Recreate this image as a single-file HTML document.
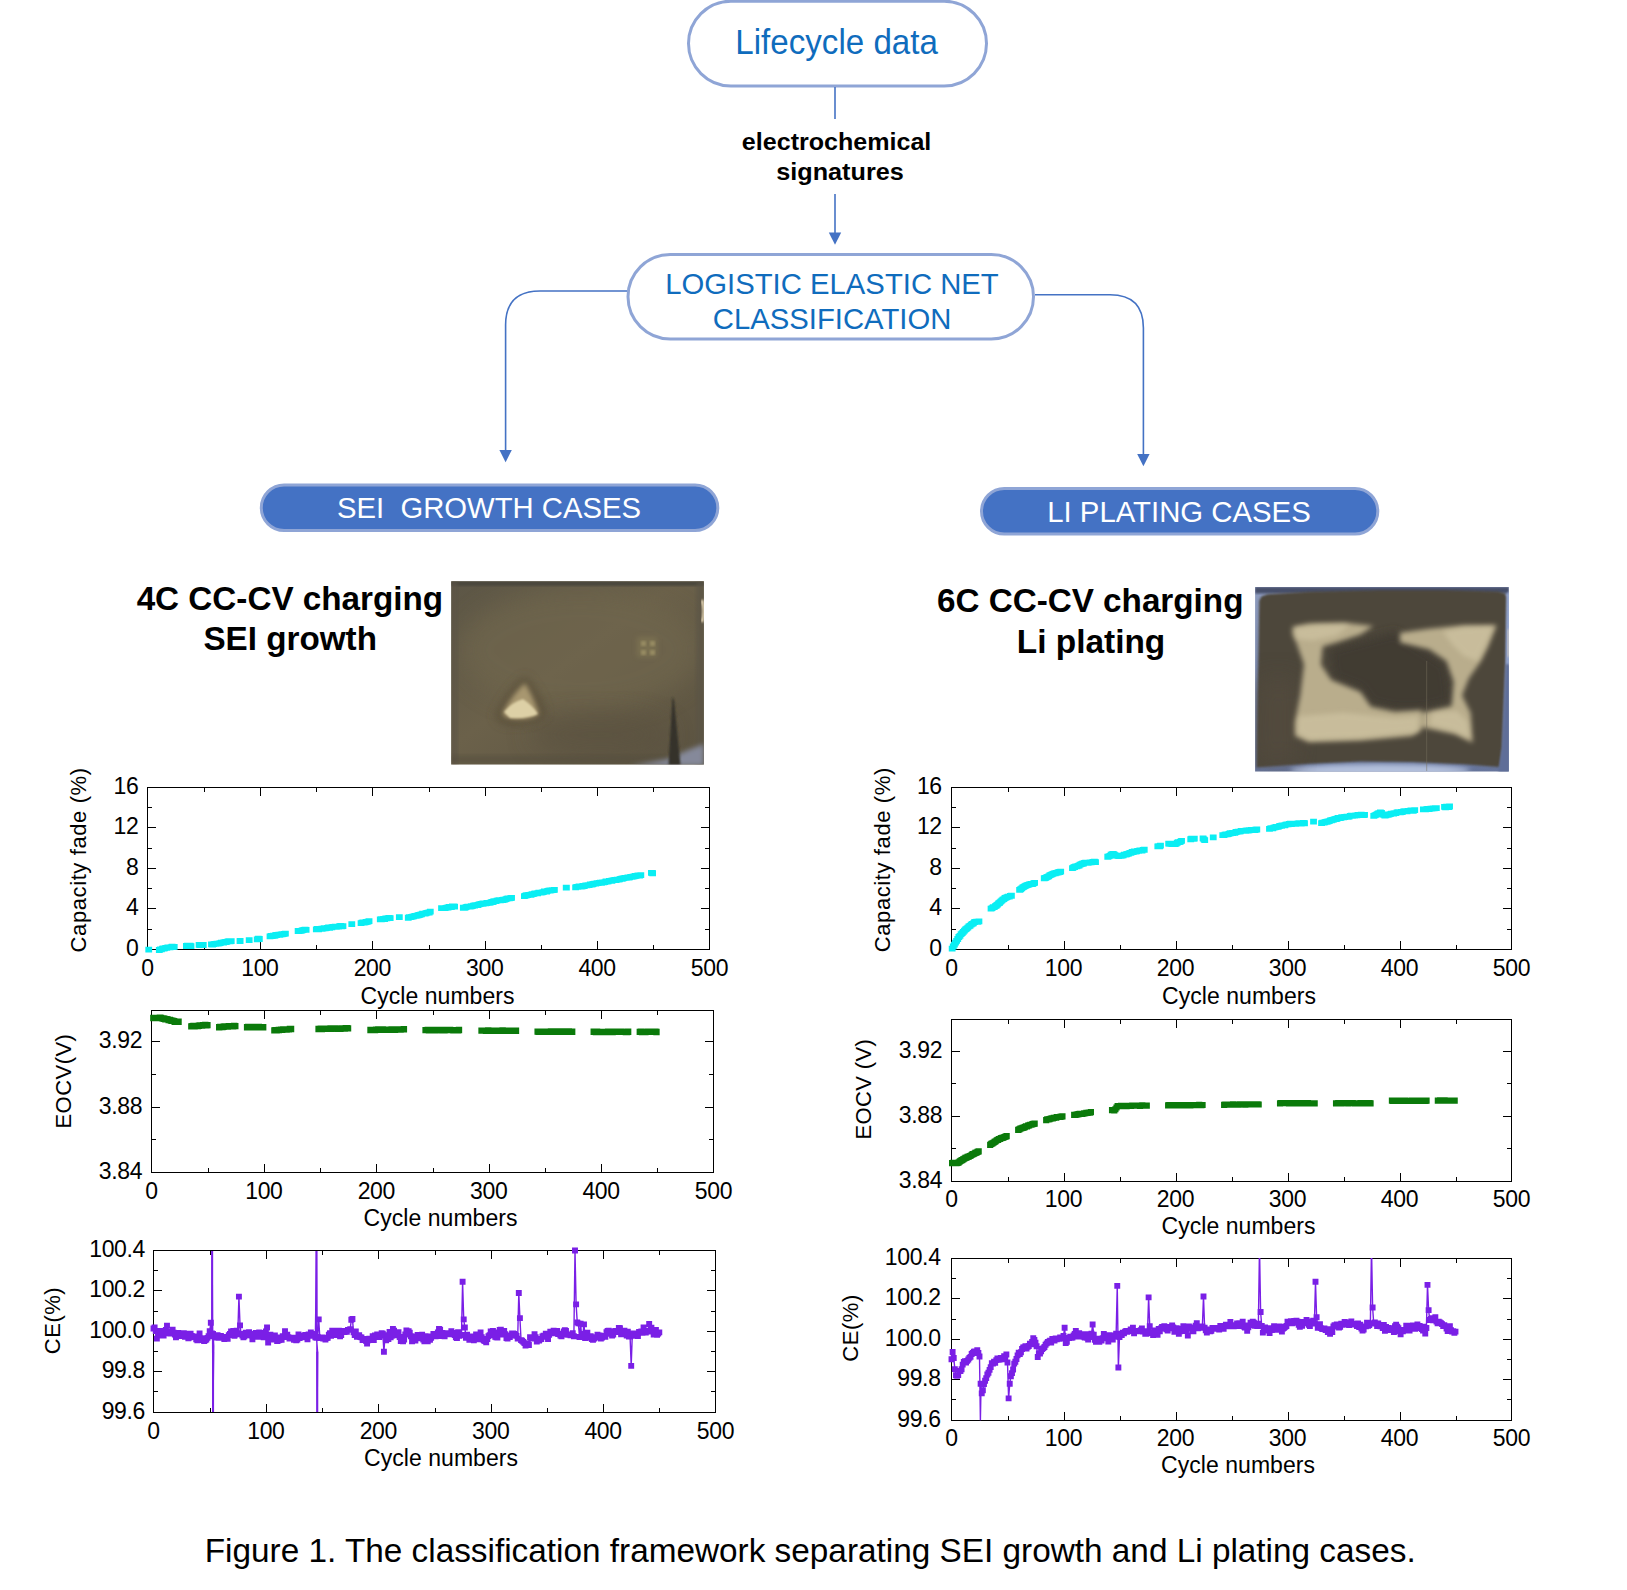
<!DOCTYPE html>
<html lang="en"><head><meta charset="utf-8"><title>Figure 1. Classification framework</title>
<style>html,body{margin:0;padding:0;background:#fff}svg{display:block}text{font-family:'Liberation Sans', sans-serif}</style>
</head><body>
<svg width="1627" height="1590" viewBox="0 0 1627 1590">
<rect width="1627" height="1590" fill="#fff"/>
<g id="flow" fill="none" stroke-linecap="butt">
<rect x="688.5" y="1.2" width="298" height="84.8" rx="42.4" ry="42.4" fill="#fff" stroke="#8fa5d6" stroke-width="3"/>
<rect x="628" y="254.5" width="405.5" height="84.5" rx="42.2" ry="42.2" fill="#fff" stroke="#8fa5d6" stroke-width="3"/>
<g stroke="#4472c4" stroke-width="1.6">
<path d="M835 87V119"/>
<path d="M835 194V234"/>
<path d="M627 291H540Q505.6 291 505.6 325V452"/>
<path d="M1035 294.7H1110Q1143.4 294.7 1143.4 328V456"/>
</g>
<g fill="#4472c4" stroke="none">
<path d="M828.8 232.5h12.4l-6.2 12.3z"/>
<path d="M499.4 450h12.4l-6.2 12.3z"/>
<path d="M1137.2 454h12.4l-6.2 12.3z"/>
</g>
<rect x="261.3" y="485" width="456.5" height="45.6" rx="22.8" ry="22.8" fill="#4472c4" stroke="#8fa5d6" stroke-width="3"/>
<rect x="981.5" y="488.5" width="396.3" height="45.6" rx="22.8" ry="22.8" fill="#4472c4" stroke="#8fa5d6" stroke-width="3"/>
</g>
<text x="836.6" y="53.7" font-size="34.6" text-anchor="middle" fill="#0f6cbd" textLength="202.5" lengthAdjust="spacingAndGlyphs">Lifecycle data</text>
<text x="836.6" y="150.1" font-size="23" text-anchor="middle" font-weight="bold" textLength="189.5" lengthAdjust="spacingAndGlyphs">electrochemical</text>
<text x="840" y="179.5" font-size="23" text-anchor="middle" font-weight="bold" textLength="127.5" lengthAdjust="spacingAndGlyphs">signatures</text>
<text x="832" y="294.3" font-size="30.2" text-anchor="middle" fill="#0f6cbd" textLength="333.5" lengthAdjust="spacingAndGlyphs">LOGISTIC ELASTIC NET</text>
<text x="832.1" y="329.3" font-size="30.2" text-anchor="middle" fill="#0f6cbd" textLength="238.5" lengthAdjust="spacingAndGlyphs">CLASSIFICATION</text>
<text x="489" y="517.8" font-size="30.2" text-anchor="middle" fill="#fff" textLength="304" lengthAdjust="spacingAndGlyphs" xml:space="preserve">SEI  GROWTH CASES</text>
<text x="1179" y="521.5" font-size="30.2" text-anchor="middle" fill="#fff" textLength="263.5" lengthAdjust="spacingAndGlyphs">LI PLATING CASES</text>
<text x="289.9" y="609.8" font-size="34.1" text-anchor="middle" font-weight="bold" textLength="306.5" lengthAdjust="spacingAndGlyphs">4C CC-CV charging</text>
<text x="290.2" y="649.9" font-size="34.1" text-anchor="middle" font-weight="bold" textLength="173.5" lengthAdjust="spacingAndGlyphs">SEI growth</text>
<text x="1090.2" y="612" font-size="34.1" text-anchor="middle" font-weight="bold" textLength="306.5" lengthAdjust="spacingAndGlyphs">6C CC-CV charging</text>
<text x="1091" y="653" font-size="34.1" text-anchor="middle" font-weight="bold" textLength="148.5" lengthAdjust="spacingAndGlyphs">Li plating</text>
<text x="810.2" y="1562" font-size="33.5" text-anchor="middle" textLength="1211" lengthAdjust="spacingAndGlyphs">Figure 1. The classification framework separating SEI growth and Li plating cases.</text>
<defs>
<filter id="b1" x="-20%" y="-20%" width="140%" height="140%"><feGaussianBlur stdDeviation="1.2"/></filter>
<filter id="b2" x="-30%" y="-30%" width="160%" height="160%"><feGaussianBlur stdDeviation="2.5"/></filter>
<filter id="b3" x="-30%" y="-30%" width="160%" height="160%"><feGaussianBlur stdDeviation="5"/></filter>
<filter id="b4" x="-50%" y="-50%" width="200%" height="200%"><feGaussianBlur stdDeviation="12"/></filter>
<linearGradient id="pL" x1="0" y1="0" x2="1" y2="1">
<stop offset="0" stop-color="#5c5646"/><stop offset="0.45" stop-color="#6b614a"/><stop offset="1" stop-color="#5b5341"/></linearGradient>
<linearGradient id="pR" x1="0" y1="0" x2="0" y2="1">
<stop offset="0" stop-color="#8d9bbd"/><stop offset="1" stop-color="#66749a"/></linearGradient>
<clipPath id="cL"><rect x="451.2" y="581.2" width="252.7" height="183.3"/></clipPath>
<clipPath id="cR"><rect x="1255.1" y="587" width="253.7" height="184.6"/></clipPath>
</defs>
<g clip-path="url(#cL)">
<rect x="451" y="581" width="253" height="184" fill="url(#pL)"/>
<ellipse cx="580" cy="650" rx="120" ry="60" fill="#70664d" opacity="0.7" filter="url(#b4)"/>
<ellipse cx="600" cy="735" rx="70" ry="22" fill="#5a5140" opacity="0.6" filter="url(#b4)"/>
<rect x="451" y="581" width="253" height="5" fill="#4c473d" filter="url(#b1)"/>
<rect x="451" y="581" width="6" height="184" fill="#5b5546" opacity="0.8" filter="url(#b2)"/>
<rect x="697" y="581" width="8" height="184" fill="#5a5446" opacity="0.8" filter="url(#b2)"/>
<path d="M451 756H704V763H451z" fill="#554d3d" opacity="0.6" filter="url(#b2)"/>
<path d="M630 766L668 759L688 750L704 744V766z" fill="#85899a" filter="url(#b2)"/>
<path d="M494 716Q512 682 526 676Q544 696 546 716Q526 728 502 724z" fill="#584e38" opacity="0.75" filter="url(#b3)"/>
<path d="M503 712Q514 692 525 683Q534 698 539 714Q532 719 520 719Q507 719 503 715z" fill="#a8976f" filter="url(#b2)"/>
<path d="M504 712Q512 702 523 699Q533 706 538 714Q528 719 510 718z" fill="#ddd0a6" filter="url(#b1)"/>
<rect x="637" y="637" width="20" height="20" fill="#7f7453" opacity="0.7" filter="url(#b2)"/>
<rect x="641" y="641" width="5" height="5" fill="#968a62" filter="url(#b1)"/><rect x="650" y="641" width="5" height="5" fill="#968a62" filter="url(#b1)"/>
<rect x="641" y="650" width="5" height="5" fill="#968a62" filter="url(#b1)"/><rect x="650" y="650" width="5" height="5" fill="#968a62" filter="url(#b1)"/>
<path d="M672.5 697L674 700L680.5 765H668.5z" fill="#34322a" filter="url(#b1)"/>
<path d="M702 600Q706 612 702 622" stroke="#e8d9b8" stroke-width="3" fill="none" filter="url(#b1)"/>
</g>
<g clip-path="url(#cR)">
<rect x="1255" y="587" width="254" height="185" fill="url(#pR)"/>
<rect x="1255" y="587" width="254" height="6.5" fill="#474f6b" filter="url(#b1)"/>
<ellipse cx="1380" cy="770" rx="90" ry="6" fill="#b3c0dc" filter="url(#b2)"/>
<path d="M1259.28 600.82L1261.51 596.51L1267.54 594.28L1308.85 591.87L1377.69 590.15L1446.54 590.15L1498.18 591.52L1505.06 593.59L1506.44 597.38L1505.4 661.06L1501.96 747.12L1499.55 767.08L1463.75 764.33L1412.12 761.92L1360.48 761.57L1308.85 763.64L1256.52 767.43L1257.21 712.69L1258.59 643.85z" fill="#4d463b" filter="url(#b1)"/>
<path d="M1329.5 649.01L1394.91 631.8L1425.89 650.73L1446.54 664.5L1451.7 702.37L1422.44 709.25L1394.91 709.25L1370.81 704.09L1360.48 688.6L1332.94 678.27z" fill="#413b32" opacity="0.9" filter="url(#b3)"/>
<path d="M1258.93 678.27L1296.8 678.27L1296.8 762.61L1257.21 764.33z" fill="#564d3f" opacity="0.6" filter="url(#b4)"/>
<path d="M1507.13 592.21L1510.22 592.21L1510.22 664.5L1506.09 664.5z" fill="#93a4cf" filter="url(#b1)"/>
<path d="M1506.09 664.5L1510.22 664.5L1510.22 772.93L1498.18 772.93L1502.31 747.12z" fill="#5f6e98" filter="url(#b1)"/>
<path d="M1507.81 630.08L1509.54 628.36L1509.54 655.9L1507.81 657.62z" fill="#e6d6bd" filter="url(#b1)"/>
<g fill="#b9ad8c" filter="url(#b2)">
<path d="M1292.5 626.64L1308.85 623.54L1343.27 622.5L1373.39 625.95L1360.48 634.38L1336.39 642.47L1322.62 646.43L1320.9 664.5L1331.22 679.99L1360.48 692.04L1370.81 706.67L1394.91 711.83L1421.58 710.11L1422.44 726.46L1420.72 730.77L1412.12 735.93L1360.48 740.58L1308.85 742.3L1295.08 735.93L1294.73 723.02L1300.24 695.48L1304.03 664.5L1296.8 643.85L1292.5 634.38z"/>
<path d="M1400.07 632.66L1429.33 628.7L1463.75 625.26L1496.8 624.91L1487.85 647.29L1480.96 661.06L1468.92 678.27L1462.03 695.48L1470.64 712.69L1472.7 742.81L1455.15 734.21L1422.44 727.32L1422.44 712.69L1451.7 706.15L1453.77 681.71L1446.54 661.06L1429.33 649.35L1400.07 642.47z"/>
</g>
<g fill="#d5caa9" filter="url(#b2)" opacity="0.55">
<path d="M1298.52 716.14L1343.27 712.69L1394.91 717.86L1419 716.14L1417.28 731.63L1360.48 737.65L1308.85 739.37L1297.66 733.35z"/>
<path d="M1443.1 631.8L1463.75 627.5L1493.01 626.64L1484.41 647.29L1477.52 661.06L1463.75 655.9L1451.7 643.85z"/>
<path d="M1295.08 628.36L1317.45 625.26L1350.15 624.91L1336.39 635.24L1312.29 640.4L1296.8 638.68z"/>
<path d="M1432.77 712.69L1456.87 710.97L1467.19 721.3L1469.78 738.51L1453.43 730.77L1429.33 724.74z"/>
</g>
<path d="M1426.7 661V771" stroke="#7a725f" stroke-width="1" opacity="0.5"/>
</g>
<rect x="147.5" y="787.5" width="562" height="162" fill="none" stroke="#000" stroke-width="1" shape-rendering="crispEdges"/>
<path d="M204.5 949.5v-4.5M204.5 787.5v4.5M260.5 949.5v-8.5M260.5 787.5v8.5M316.5 949.5v-4.5M316.5 787.5v4.5M372.5 949.5v-8.5M372.5 787.5v8.5M429.5 949.5v-4.5M429.5 787.5v4.5M485.5 949.5v-8.5M485.5 787.5v8.5M541.5 949.5v-4.5M541.5 787.5v4.5M597.5 949.5v-8.5M597.5 787.5v8.5M653.5 949.5v-4.5M653.5 787.5v4.5M147.5 908.5h8.5M709.5 908.5h-8.5M147.5 868.5h8.5M709.5 868.5h-8.5M147.5 827.5h8.5M709.5 827.5h-8.5M147.5 929.5h4.5M709.5 929.5h-4.5M147.5 888.5h4.5M709.5 888.5h-4.5M147.5 848.5h4.5M709.5 848.5h-4.5M147.5 807.5h4.5M709.5 807.5h-4.5" stroke="#000" stroke-width="1" fill="none" shape-rendering="crispEdges"/>
<text x="138.5" y="955.7" font-size="23" text-anchor="end" letter-spacing="-0.35">0</text>
<text x="138.5" y="915.2" font-size="23" text-anchor="end" letter-spacing="-0.35">4</text>
<text x="138.5" y="874.7" font-size="23" text-anchor="end" letter-spacing="-0.35">8</text>
<text x="138.5" y="834.2" font-size="23" text-anchor="end" letter-spacing="-0.35">12</text>
<text x="138.5" y="793.7" font-size="23" text-anchor="end" letter-spacing="-0.35">16</text>
<text x="147.5" y="975.8" font-size="23" text-anchor="middle" letter-spacing="-0.35">0</text>
<text x="259.9" y="975.8" font-size="23" text-anchor="middle" letter-spacing="-0.35">100</text>
<text x="372.3" y="975.8" font-size="23" text-anchor="middle" letter-spacing="-0.35">200</text>
<text x="484.7" y="975.8" font-size="23" text-anchor="middle" letter-spacing="-0.35">300</text>
<text x="597.1" y="975.8" font-size="23" text-anchor="middle" letter-spacing="-0.35">400</text>
<text x="709.5" y="975.8" font-size="23" text-anchor="middle" letter-spacing="-0.35">500</text>
<text x="437.5" y="1003.6" font-size="23" text-anchor="middle" textLength="154" lengthAdjust="spacing">Cycle numbers</text>
<text transform="translate(86.2 860.2) rotate(-90)" font-size="22" text-anchor="middle" textLength="184.5" lengthAdjust="spacing">Capacity fade (%)</text>
<path id="d1" d="M145.34 946.71h6.8v5.8h-6.8zM155.9 947.12h6.8v5.8h-6.8zM156.97 946.45h6.8v5.8h-6.8zM158.04 946.45h6.8v5.8h-6.8zM159.11 945.81h6.8v5.8h-6.8zM160.17 945.58h6.8v5.8h-6.8zM161.24 945.48h6.8v5.8h-6.8zM162.31 944.91h6.8v5.8h-6.8zM163.38 944.91h6.8v5.8h-6.8zM164.44 944.4h6.8v5.8h-6.8zM165.51 944.55h6.8v5.8h-6.8zM166.58 944.45h6.8v5.8h-6.8zM167.65 944.17h6.8v5.8h-6.8zM168.72 943.84h6.8v5.8h-6.8zM169.78 944.19h6.8v5.8h-6.8zM170.85 944.05h6.8v5.8h-6.8zM182.99 943.11h6.8v5.8h-6.8zM183.91 942.86h6.8v5.8h-6.8zM184.83 943.05h6.8v5.8h-6.8zM185.76 943.12h6.8v5.8h-6.8zM186.68 942.72h6.8v5.8h-6.8zM187.6 943.25h6.8v5.8h-6.8zM195.69 941.94h6.8v5.8h-6.8zM196.73 942.23h6.8v5.8h-6.8zM197.77 942.27h6.8v5.8h-6.8zM198.81 942.24h6.8v5.8h-6.8zM199.85 942.08h6.8v5.8h-6.8zM208.06 941.45h6.8v5.8h-6.8zM209.15 941.65h6.8v5.8h-6.8zM210.25 941.21h6.8v5.8h-6.8zM211.35 940.98h6.8v5.8h-6.8zM212.45 940.94h6.8v5.8h-6.8zM213.55 940.64h6.8v5.8h-6.8zM214.65 940.74h6.8v5.8h-6.8zM215.75 940.54h6.8v5.8h-6.8zM216.85 940.25h6.8v5.8h-6.8zM217.95 939.77h6.8v5.8h-6.8zM219.05 939.72h6.8v5.8h-6.8zM220.14 939.59h6.8v5.8h-6.8zM221.24 939.23h6.8v5.8h-6.8zM222.34 939.11h6.8v5.8h-6.8zM223.44 939.01h6.8v5.8h-6.8zM224.54 938.51h6.8v5.8h-6.8zM225.64 938.37h6.8v5.8h-6.8zM226.74 938.45h6.8v5.8h-6.8zM227.84 938.15h6.8v5.8h-6.8zM236.61 938.15h6.8v5.8h-6.8zM236.72 937.93h6.8v5.8h-6.8zM245.77 937.28h6.8v5.8h-6.8zM253.8 936.46h6.8v5.8h-6.8zM254.87 935.83h6.8v5.8h-6.8zM255.94 936.1h6.8v5.8h-6.8zM266.62 933.39h6.8v5.8h-6.8zM267.72 933h6.8v5.8h-6.8zM268.82 933.19h6.8v5.8h-6.8zM269.92 932.81h6.8v5.8h-6.8zM271.02 932.91h6.8v5.8h-6.8zM272.12 932.35h6.8v5.8h-6.8zM273.22 932.11h6.8v5.8h-6.8zM274.32 932.05h6.8v5.8h-6.8zM275.42 931.69h6.8v5.8h-6.8zM276.52 931.86h6.8v5.8h-6.8zM277.62 931.45h6.8v5.8h-6.8zM278.72 931.33h6.8v5.8h-6.8zM279.81 931.16h6.8v5.8h-6.8zM280.91 931.06h6.8v5.8h-6.8zM282.01 930.65h6.8v5.8h-6.8zM294.72 928.1h6.8v5.8h-6.8zM295.71 928.2h6.8v5.8h-6.8zM296.71 927.89h6.8v5.8h-6.8zM297.71 928.06h6.8v5.8h-6.8zM298.71 927.48h6.8v5.8h-6.8zM299.7 927.32h6.8v5.8h-6.8zM300.7 926.92h6.8v5.8h-6.8zM301.7 926.83h6.8v5.8h-6.8zM302.7 926.98h6.8v5.8h-6.8zM312.92 926.39h6.8v5.8h-6.8zM314.03 926.08h6.8v5.8h-6.8zM315.14 926.34h6.8v5.8h-6.8zM316.25 925.93h6.8v5.8h-6.8zM317.36 925.97h6.8v5.8h-6.8zM318.47 925.87h6.8v5.8h-6.8zM319.58 925.77h6.8v5.8h-6.8zM320.69 925.2h6.8v5.8h-6.8zM321.8 925.45h6.8v5.8h-6.8zM322.91 925.24h6.8v5.8h-6.8zM324.02 925.01h6.8v5.8h-6.8zM325.13 924.58h6.8v5.8h-6.8zM326.24 924.93h6.8v5.8h-6.8zM327.35 924.57h6.8v5.8h-6.8zM328.46 924.37h6.8v5.8h-6.8zM329.57 924.03h6.8v5.8h-6.8zM330.68 923.93h6.8v5.8h-6.8zM331.79 923.76h6.8v5.8h-6.8zM332.9 923.98h6.8v5.8h-6.8zM334.01 923.76h6.8v5.8h-6.8zM335.12 923.66h6.8v5.8h-6.8zM336.23 923.2h6.8v5.8h-6.8zM337.34 923.02h6.8v5.8h-6.8zM338.45 923.37h6.8v5.8h-6.8zM339.56 923.22h6.8v5.8h-6.8zM348.39 921.21h6.8v5.8h-6.8zM357.66 920.13h6.8v5.8h-6.8zM358.66 919.8h6.8v5.8h-6.8zM359.66 919.56h6.8v5.8h-6.8zM360.65 919.58h6.8v5.8h-6.8zM361.65 919.55h6.8v5.8h-6.8zM362.65 919.12h6.8v5.8h-6.8zM363.65 918.97h6.8v5.8h-6.8zM364.64 918.67h6.8v5.8h-6.8zM365.64 918.26h6.8v5.8h-6.8zM376.88 916.4h6.8v5.8h-6.8zM377.98 916.35h6.8v5.8h-6.8zM379.08 916.13h6.8v5.8h-6.8zM380.18 915.94h6.8v5.8h-6.8zM381.28 916.17h6.8v5.8h-6.8zM382.38 915.5h6.8v5.8h-6.8zM383.47 915.42h6.8v5.8h-6.8zM384.57 915.21h6.8v5.8h-6.8zM385.67 915.1h6.8v5.8h-6.8zM386.77 915.19h6.8v5.8h-6.8zM395.93 914.16h6.8v5.8h-6.8zM404.87 914.85h6.8v5.8h-6.8zM405.97 914.25h6.8v5.8h-6.8zM407.07 914.32h6.8v5.8h-6.8zM408.17 914.04h6.8v5.8h-6.8zM409.27 913.67h6.8v5.8h-6.8zM410.38 913.43h6.8v5.8h-6.8zM411.48 913.04h6.8v5.8h-6.8zM412.58 912.94h6.8v5.8h-6.8zM413.68 912.69h6.8v5.8h-6.8zM414.78 912.33h6.8v5.8h-6.8zM415.88 912.08h6.8v5.8h-6.8zM416.98 911.64h6.8v5.8h-6.8zM418.09 911.57h6.8v5.8h-6.8zM419.19 910.78h6.8v5.8h-6.8zM420.29 910.66h6.8v5.8h-6.8zM421.39 910.67h6.8v5.8h-6.8zM422.49 910.33h6.8v5.8h-6.8zM423.59 909.99h6.8v5.8h-6.8zM424.7 909.71h6.8v5.8h-6.8zM425.8 909.58h6.8v5.8h-6.8zM426.9 908.82h6.8v5.8h-6.8zM438.14 905.23h6.8v5.8h-6.8zM439.22 905.31h6.8v5.8h-6.8zM440.31 905.13h6.8v5.8h-6.8zM441.4 905.21h6.8v5.8h-6.8zM442.48 905.03h6.8v5.8h-6.8zM443.57 904.71h6.8v5.8h-6.8zM444.66 904.59h6.8v5.8h-6.8zM445.74 904.08h6.8v5.8h-6.8zM446.83 904.31h6.8v5.8h-6.8zM447.92 904.23h6.8v5.8h-6.8zM449 903.5h6.8v5.8h-6.8zM450.09 903.58h6.8v5.8h-6.8zM451.18 903.72h6.8v5.8h-6.8zM459.94 904.86h6.8v5.8h-6.8zM461.07 904.94h6.8v5.8h-6.8zM462.19 904.41h6.8v5.8h-6.8zM463.31 903.91h6.8v5.8h-6.8zM464.43 903.75h6.8v5.8h-6.8zM465.55 903.63h6.8v5.8h-6.8zM466.67 903.66h6.8v5.8h-6.8zM467.79 903.37h6.8v5.8h-6.8zM468.92 903.26h6.8v5.8h-6.8zM470.04 902.67h6.8v5.8h-6.8zM471.16 902.59h6.8v5.8h-6.8zM472.28 902.21h6.8v5.8h-6.8zM473.4 902.25h6.8v5.8h-6.8zM474.52 902.09h6.8v5.8h-6.8zM475.64 901.51h6.8v5.8h-6.8zM476.76 901.17h6.8v5.8h-6.8zM477.89 901.02h6.8v5.8h-6.8zM479.01 900.83h6.8v5.8h-6.8zM480.13 900.59h6.8v5.8h-6.8zM481.25 900.41h6.8v5.8h-6.8zM482.37 900.49h6.8v5.8h-6.8zM483.49 900.09h6.8v5.8h-6.8zM484.61 899.96h6.8v5.8h-6.8zM485.74 899.93h6.8v5.8h-6.8zM486.86 899.7h6.8v5.8h-6.8zM487.98 899.32h6.8v5.8h-6.8zM489.1 899.11h6.8v5.8h-6.8zM490.22 898.62h6.8v5.8h-6.8zM491.34 898.23h6.8v5.8h-6.8zM492.46 898.31h6.8v5.8h-6.8zM493.59 897.78h6.8v5.8h-6.8zM494.71 897.52h6.8v5.8h-6.8zM495.83 897.32h6.8v5.8h-6.8zM496.95 897.45h6.8v5.8h-6.8zM498.07 897.31h6.8v5.8h-6.8zM499.19 897.08h6.8v5.8h-6.8zM500.31 896.87h6.8v5.8h-6.8zM501.44 896.63h6.8v5.8h-6.8zM502.56 896.15h6.8v5.8h-6.8zM503.68 895.75h6.8v5.8h-6.8zM504.8 895.56h6.8v5.8h-6.8zM505.92 895.55h6.8v5.8h-6.8zM507.04 895.22h6.8v5.8h-6.8zM508.16 894.9h6.8v5.8h-6.8zM520.98 893.32h6.8v5.8h-6.8zM522.09 892.74h6.8v5.8h-6.8zM523.2 892.35h6.8v5.8h-6.8zM524.31 892.2h6.8v5.8h-6.8zM525.42 891.98h6.8v5.8h-6.8zM526.53 891.91h6.8v5.8h-6.8zM527.65 891.86h6.8v5.8h-6.8zM528.76 891.26h6.8v5.8h-6.8zM529.87 891.3h6.8v5.8h-6.8zM530.98 890.78h6.8v5.8h-6.8zM532.09 890.45h6.8v5.8h-6.8zM533.2 890.56h6.8v5.8h-6.8zM534.32 890.33h6.8v5.8h-6.8zM535.43 889.76h6.8v5.8h-6.8zM536.54 889.66h6.8v5.8h-6.8zM537.65 889.77h6.8v5.8h-6.8zM538.76 889.56h6.8v5.8h-6.8zM539.87 889.31h6.8v5.8h-6.8zM540.98 888.62h6.8v5.8h-6.8zM542.1 888.44h6.8v5.8h-6.8zM543.21 888.61h6.8v5.8h-6.8zM544.32 887.96h6.8v5.8h-6.8zM545.43 887.64h6.8v5.8h-6.8zM546.54 887.6h6.8v5.8h-6.8zM547.65 887.55h6.8v5.8h-6.8zM548.76 887.2h6.8v5.8h-6.8zM549.88 887.22h6.8v5.8h-6.8zM550.99 887.06h6.8v5.8h-6.8zM562.79 884.64h6.8v5.8h-6.8zM563.01 884.8h6.8v5.8h-6.8zM572.23 884.42h6.8v5.8h-6.8zM573.36 883.98h6.8v5.8h-6.8zM574.48 884.07h6.8v5.8h-6.8zM575.6 883.6h6.8v5.8h-6.8zM576.73 883.42h6.8v5.8h-6.8zM577.85 883.58h6.8v5.8h-6.8zM578.98 883.35h6.8v5.8h-6.8zM580.1 883.11h6.8v5.8h-6.8zM581.22 882.94h6.8v5.8h-6.8zM582.35 882.52h6.8v5.8h-6.8zM583.47 882.5h6.8v5.8h-6.8zM584.6 882.2h6.8v5.8h-6.8zM585.72 882.16h6.8v5.8h-6.8zM586.84 881.48h6.8v5.8h-6.8zM587.97 881.61h6.8v5.8h-6.8zM589.09 881.34h6.8v5.8h-6.8zM590.22 881.05h6.8v5.8h-6.8zM591.34 880.65h6.8v5.8h-6.8zM592.46 880.73h6.8v5.8h-6.8zM593.59 880.22h6.8v5.8h-6.8zM594.71 880.26h6.8v5.8h-6.8zM595.84 880.03h6.8v5.8h-6.8zM596.96 879.83h6.8v5.8h-6.8zM598.08 879.93h6.8v5.8h-6.8zM599.21 879.46h6.8v5.8h-6.8zM600.33 879.41h6.8v5.8h-6.8zM601.46 879.31h6.8v5.8h-6.8zM602.58 878.62h6.8v5.8h-6.8zM603.7 878.79h6.8v5.8h-6.8zM604.83 878.39h6.8v5.8h-6.8zM605.95 878.03h6.8v5.8h-6.8zM607.08 877.93h6.8v5.8h-6.8zM608.2 877.86h6.8v5.8h-6.8zM609.32 877.53h6.8v5.8h-6.8zM610.45 877.3h6.8v5.8h-6.8zM611.57 876.95h6.8v5.8h-6.8zM612.7 877.15h6.8v5.8h-6.8zM613.82 876.67h6.8v5.8h-6.8zM614.94 876.65h6.8v5.8h-6.8zM616.07 876.42h6.8v5.8h-6.8zM617.19 875.91h6.8v5.8h-6.8zM618.32 875.86h6.8v5.8h-6.8zM619.44 875.62h6.8v5.8h-6.8zM620.56 875.29h6.8v5.8h-6.8zM621.69 874.99h6.8v5.8h-6.8zM622.81 875.06h6.8v5.8h-6.8zM623.94 874.75h6.8v5.8h-6.8zM625.06 874.6h6.8v5.8h-6.8zM626.18 874.39h6.8v5.8h-6.8zM627.31 874.07h6.8v5.8h-6.8zM628.43 874.01h6.8v5.8h-6.8zM629.56 873.75h6.8v5.8h-6.8zM630.68 873.57h6.8v5.8h-6.8zM631.8 873.08h6.8v5.8h-6.8zM632.93 873.02h6.8v5.8h-6.8zM634.05 872.7h6.8v5.8h-6.8zM635.18 872.45h6.8v5.8h-6.8zM636.3 872.66h6.8v5.8h-6.8zM637.42 872.27h6.8v5.8h-6.8zM647.99 870.04h6.8v5.8h-6.8zM648.61 870.02h6.8v5.8h-6.8zM649.23 870.37h6.8v5.8h-6.8z" fill="#0aeef3"/>
<rect x="151.5" y="1010.5" width="562" height="162" fill="none" stroke="#000" stroke-width="1" shape-rendering="crispEdges"/>
<path d="M208.5 1172.5v-4.5M208.5 1010.5v4.5M264.5 1172.5v-8.5M264.5 1010.5v8.5M320.5 1172.5v-4.5M320.5 1010.5v4.5M376.5 1172.5v-8.5M376.5 1010.5v8.5M433.5 1172.5v-4.5M433.5 1010.5v4.5M489.5 1172.5v-8.5M489.5 1010.5v8.5M545.5 1172.5v-4.5M545.5 1010.5v4.5M601.5 1172.5v-8.5M601.5 1010.5v8.5M657.5 1172.5v-4.5M657.5 1010.5v4.5M151.5 1107.5h8.5M713.5 1107.5h-8.5M151.5 1041.5h8.5M713.5 1041.5h-8.5M151.5 1139.5h4.5M713.5 1139.5h-4.5M151.5 1074.5h4.5M713.5 1074.5h-4.5" stroke="#000" stroke-width="1" fill="none" shape-rendering="crispEdges"/>
<text x="142.2" y="1178.7" font-size="23" text-anchor="end" letter-spacing="-0.35">3.84</text>
<text x="142.2" y="1113.5" font-size="23" text-anchor="end" letter-spacing="-0.35">3.88</text>
<text x="142.2" y="1048.3" font-size="23" text-anchor="end" letter-spacing="-0.35">3.92</text>
<text x="151.5" y="1199" font-size="23" text-anchor="middle" letter-spacing="-0.35">0</text>
<text x="263.9" y="1199" font-size="23" text-anchor="middle" letter-spacing="-0.35">100</text>
<text x="376.3" y="1199" font-size="23" text-anchor="middle" letter-spacing="-0.35">200</text>
<text x="488.7" y="1199" font-size="23" text-anchor="middle" letter-spacing="-0.35">300</text>
<text x="601.1" y="1199" font-size="23" text-anchor="middle" letter-spacing="-0.35">400</text>
<text x="713.5" y="1199" font-size="23" text-anchor="middle" letter-spacing="-0.35">500</text>
<text x="440.5" y="1226.2" font-size="23" text-anchor="middle" textLength="154" lengthAdjust="spacing">Cycle numbers</text>
<text transform="translate(71.1 1081.3) rotate(-90)" font-size="22" text-anchor="middle" textLength="94.5" lengthAdjust="spacing">EOCV(V)</text>
<path id="d2" d="M150.15 1014.84h6.4v6.4h-6.4zM151.25 1014.72h6.4v6.4h-6.4zM152.34 1014.86h6.4v6.4h-6.4zM153.44 1014.8h6.4v6.4h-6.4zM154.53 1014.86h6.4v6.4h-6.4zM155.63 1014.63h6.4v6.4h-6.4zM156.72 1014.58h6.4v6.4h-6.4zM157.82 1014.66h6.4v6.4h-6.4zM158.91 1015.22h6.4v6.4h-6.4zM160.01 1015.26h6.4v6.4h-6.4zM161.1 1015.54h6.4v6.4h-6.4zM162.2 1016.01h6.4v6.4h-6.4zM163.29 1015.98h6.4v6.4h-6.4zM164.39 1016.21h6.4v6.4h-6.4zM165.48 1016.76h6.4v6.4h-6.4zM166.57 1016.76h6.4v6.4h-6.4zM167.67 1017.3h6.4v6.4h-6.4zM168.76 1017.59h6.4v6.4h-6.4zM169.86 1017.71h6.4v6.4h-6.4zM170.95 1018.1h6.4v6.4h-6.4zM172.05 1018.48h6.4v6.4h-6.4zM173.14 1018.43h6.4v6.4h-6.4zM174.24 1018.44h6.4v6.4h-6.4zM175.33 1018.56h6.4v6.4h-6.4zM188.15 1023.18h6.4v6.4h-6.4zM189.22 1023.05h6.4v6.4h-6.4zM190.29 1022.82h6.4v6.4h-6.4zM191.36 1023.01h6.4v6.4h-6.4zM192.43 1022.72h6.4v6.4h-6.4zM193.5 1022.68h6.4v6.4h-6.4zM194.58 1022.77h6.4v6.4h-6.4zM195.65 1022.57h6.4v6.4h-6.4zM196.72 1022.37h6.4v6.4h-6.4zM197.79 1022.33h6.4v6.4h-6.4zM198.86 1022.43h6.4v6.4h-6.4zM199.93 1021.99h6.4v6.4h-6.4zM201 1021.99h6.4v6.4h-6.4zM202.08 1021.83h6.4v6.4h-6.4zM203.15 1022.09h6.4v6.4h-6.4zM204.22 1021.95h6.4v6.4h-6.4zM216.02 1024.01h6.4v6.4h-6.4zM217.09 1023.66h6.4v6.4h-6.4zM218.16 1023.79h6.4v6.4h-6.4zM219.24 1023.78h6.4v6.4h-6.4zM220.31 1023.6h6.4v6.4h-6.4zM221.38 1023.35h6.4v6.4h-6.4zM222.45 1023.32h6.4v6.4h-6.4zM223.52 1023.47h6.4v6.4h-6.4zM224.59 1023.45h6.4v6.4h-6.4zM225.66 1023.09h6.4v6.4h-6.4zM226.74 1023.16h6.4v6.4h-6.4zM227.81 1023.04h6.4v6.4h-6.4zM228.88 1023.22h6.4v6.4h-6.4zM229.95 1023.16h6.4v6.4h-6.4zM231.02 1022.85h6.4v6.4h-6.4zM232.09 1022.89h6.4v6.4h-6.4zM243.9 1024.1h6.4v6.4h-6.4zM244.97 1023.77h6.4v6.4h-6.4zM246.04 1023.88h6.4v6.4h-6.4zM247.11 1023.82h6.4v6.4h-6.4zM248.18 1024.1h6.4v6.4h-6.4zM249.25 1023.8h6.4v6.4h-6.4zM250.33 1024.11h6.4v6.4h-6.4zM251.4 1023.79h6.4v6.4h-6.4zM252.47 1023.95h6.4v6.4h-6.4zM253.54 1024h6.4v6.4h-6.4zM254.61 1023.92h6.4v6.4h-6.4zM255.68 1023.77h6.4v6.4h-6.4zM256.75 1024.03h6.4v6.4h-6.4zM257.83 1024.08h6.4v6.4h-6.4zM258.9 1023.93h6.4v6.4h-6.4zM259.97 1024.04h6.4v6.4h-6.4zM271.21 1027.16h6.4v6.4h-6.4zM272.32 1027.06h6.4v6.4h-6.4zM273.43 1027.02h6.4v6.4h-6.4zM274.54 1026.88h6.4v6.4h-6.4zM275.65 1026.76h6.4v6.4h-6.4zM276.75 1026.68h6.4v6.4h-6.4zM277.86 1026.42h6.4v6.4h-6.4zM278.97 1026.53h6.4v6.4h-6.4zM280.08 1026.37h6.4v6.4h-6.4zM281.19 1026.41h6.4v6.4h-6.4zM282.3 1026.27h6.4v6.4h-6.4zM283.41 1026.31h6.4v6.4h-6.4zM284.52 1026.14h6.4v6.4h-6.4zM285.63 1026.16h6.4v6.4h-6.4zM286.74 1025.8h6.4v6.4h-6.4zM287.84 1025.79h6.4v6.4h-6.4zM315.38 1025.81h6.4v6.4h-6.4zM316.47 1025.68h6.4v6.4h-6.4zM317.56 1025.48h6.4v6.4h-6.4zM318.65 1025.79h6.4v6.4h-6.4zM319.75 1025.49h6.4v6.4h-6.4zM320.84 1025.62h6.4v6.4h-6.4zM321.93 1025.58h6.4v6.4h-6.4zM323.02 1025.43h6.4v6.4h-6.4zM324.11 1025.59h6.4v6.4h-6.4zM325.2 1025.52h6.4v6.4h-6.4zM326.29 1025.44h6.4v6.4h-6.4zM327.38 1025.3h6.4v6.4h-6.4zM328.47 1025.54h6.4v6.4h-6.4zM329.56 1025.33h6.4v6.4h-6.4zM330.65 1025.36h6.4v6.4h-6.4zM331.74 1025.37h6.4v6.4h-6.4zM332.83 1025.44h6.4v6.4h-6.4zM333.92 1025.45h6.4v6.4h-6.4zM335.02 1025.54h6.4v6.4h-6.4zM336.11 1025.5h6.4v6.4h-6.4zM337.2 1025.5h6.4v6.4h-6.4zM338.29 1025.22h6.4v6.4h-6.4zM339.38 1025.39h6.4v6.4h-6.4zM340.47 1025.41h6.4v6.4h-6.4zM341.56 1025.43h6.4v6.4h-6.4zM342.65 1025.11h6.4v6.4h-6.4zM343.74 1025.08h6.4v6.4h-6.4zM344.83 1025.14h6.4v6.4h-6.4zM367.31 1026.75h6.4v6.4h-6.4zM368.42 1026.75h6.4v6.4h-6.4zM369.54 1026.71h6.4v6.4h-6.4zM370.65 1026.63h6.4v6.4h-6.4zM371.76 1026.73h6.4v6.4h-6.4zM372.88 1026.6h6.4v6.4h-6.4zM373.99 1026.66h6.4v6.4h-6.4zM375.1 1026.37h6.4v6.4h-6.4zM376.21 1026.35h6.4v6.4h-6.4zM377.33 1026.5h6.4v6.4h-6.4zM378.44 1026.61h6.4v6.4h-6.4zM379.55 1026.31h6.4v6.4h-6.4zM380.66 1026.55h6.4v6.4h-6.4zM381.78 1026.51h6.4v6.4h-6.4zM382.89 1026.64h6.4v6.4h-6.4zM384 1026.47h6.4v6.4h-6.4zM385.12 1026.42h6.4v6.4h-6.4zM386.23 1026.4h6.4v6.4h-6.4zM387.34 1026.5h6.4v6.4h-6.4zM388.45 1026.36h6.4v6.4h-6.4zM389.57 1026.54h6.4v6.4h-6.4zM390.68 1026.43h6.4v6.4h-6.4zM391.79 1026.48h6.4v6.4h-6.4zM392.9 1026.34h6.4v6.4h-6.4zM394.02 1026.47h6.4v6.4h-6.4zM395.13 1026.46h6.4v6.4h-6.4zM396.24 1026.33h6.4v6.4h-6.4zM397.36 1026.34h6.4v6.4h-6.4zM398.47 1026.19h6.4v6.4h-6.4zM399.58 1026.2h6.4v6.4h-6.4zM400.69 1026.1h6.4v6.4h-6.4zM422.39 1026.92h6.4v6.4h-6.4zM423.5 1026.9h6.4v6.4h-6.4zM424.61 1026.84h6.4v6.4h-6.4zM425.73 1027.03h6.4v6.4h-6.4zM426.84 1027.05h6.4v6.4h-6.4zM427.95 1026.8h6.4v6.4h-6.4zM429.06 1027.12h6.4v6.4h-6.4zM430.18 1026.9h6.4v6.4h-6.4zM431.29 1026.93h6.4v6.4h-6.4zM432.4 1027.16h6.4v6.4h-6.4zM433.51 1026.85h6.4v6.4h-6.4zM434.63 1026.83h6.4v6.4h-6.4zM435.74 1026.93h6.4v6.4h-6.4zM436.85 1026.89h6.4v6.4h-6.4zM437.97 1026.86h6.4v6.4h-6.4zM439.08 1027.13h6.4v6.4h-6.4zM440.19 1026.98h6.4v6.4h-6.4zM441.3 1026.98h6.4v6.4h-6.4zM442.42 1026.85h6.4v6.4h-6.4zM443.53 1026.87h6.4v6.4h-6.4zM444.64 1026.86h6.4v6.4h-6.4zM445.76 1026.95h6.4v6.4h-6.4zM446.87 1026.83h6.4v6.4h-6.4zM447.98 1026.91h6.4v6.4h-6.4zM449.09 1026.91h6.4v6.4h-6.4zM450.21 1027.09h6.4v6.4h-6.4zM451.32 1027.17h6.4v6.4h-6.4zM452.43 1027.13h6.4v6.4h-6.4zM453.54 1027.04h6.4v6.4h-6.4zM454.66 1027.14h6.4v6.4h-6.4zM455.77 1026.85h6.4v6.4h-6.4zM478.36 1027.47h6.4v6.4h-6.4zM479.47 1027.44h6.4v6.4h-6.4zM480.58 1027.44h6.4v6.4h-6.4zM481.69 1027.42h6.4v6.4h-6.4zM482.8 1027.49h6.4v6.4h-6.4zM483.91 1027.68h6.4v6.4h-6.4zM485.02 1027.37h6.4v6.4h-6.4zM486.13 1027.39h6.4v6.4h-6.4zM487.24 1027.49h6.4v6.4h-6.4zM488.35 1027.48h6.4v6.4h-6.4zM489.46 1027.43h6.4v6.4h-6.4zM490.57 1027.66h6.4v6.4h-6.4zM491.68 1027.4h6.4v6.4h-6.4zM492.79 1027.59h6.4v6.4h-6.4zM493.9 1027.66h6.4v6.4h-6.4zM495.01 1027.58h6.4v6.4h-6.4zM496.11 1027.4h6.4v6.4h-6.4zM497.22 1027.61h6.4v6.4h-6.4zM498.33 1027.4h6.4v6.4h-6.4zM499.44 1027.3h6.4v6.4h-6.4zM500.55 1027.49h6.4v6.4h-6.4zM501.66 1027.54h6.4v6.4h-6.4zM502.77 1027.5h6.4v6.4h-6.4zM503.88 1027.42h6.4v6.4h-6.4zM504.99 1027.39h6.4v6.4h-6.4zM506.1 1027.44h6.4v6.4h-6.4zM507.21 1027.43h6.4v6.4h-6.4zM508.32 1027.66h6.4v6.4h-6.4zM509.43 1027.63h6.4v6.4h-6.4zM510.54 1027.59h6.4v6.4h-6.4zM511.65 1027.39h6.4v6.4h-6.4zM512.76 1027.57h6.4v6.4h-6.4zM534.45 1028.41h6.4v6.4h-6.4zM535.56 1028.63h6.4v6.4h-6.4zM536.68 1028.62h6.4v6.4h-6.4zM537.79 1028.54h6.4v6.4h-6.4zM538.9 1028.38h6.4v6.4h-6.4zM540.02 1028.38h6.4v6.4h-6.4zM541.13 1028.39h6.4v6.4h-6.4zM542.24 1028.54h6.4v6.4h-6.4zM543.36 1028.46h6.4v6.4h-6.4zM544.47 1028.48h6.4v6.4h-6.4zM545.58 1028.49h6.4v6.4h-6.4zM546.69 1028.63h6.4v6.4h-6.4zM547.81 1028.33h6.4v6.4h-6.4zM548.92 1028.6h6.4v6.4h-6.4zM550.03 1028.3h6.4v6.4h-6.4zM551.15 1028.32h6.4v6.4h-6.4zM552.26 1028.68h6.4v6.4h-6.4zM553.37 1028.51h6.4v6.4h-6.4zM554.49 1028.38h6.4v6.4h-6.4zM555.6 1028.32h6.4v6.4h-6.4zM556.71 1028.53h6.4v6.4h-6.4zM557.83 1028.6h6.4v6.4h-6.4zM558.94 1028.63h6.4v6.4h-6.4zM560.05 1028.34h6.4v6.4h-6.4zM561.17 1028.64h6.4v6.4h-6.4zM562.28 1028.49h6.4v6.4h-6.4zM563.39 1028.67h6.4v6.4h-6.4zM564.5 1028.52h6.4v6.4h-6.4zM565.62 1028.36h6.4v6.4h-6.4zM566.73 1028.68h6.4v6.4h-6.4zM567.84 1028.42h6.4v6.4h-6.4zM568.96 1028.54h6.4v6.4h-6.4zM590.54 1028.48h6.4v6.4h-6.4zM591.65 1028.55h6.4v6.4h-6.4zM592.76 1028.74h6.4v6.4h-6.4zM593.87 1028.48h6.4v6.4h-6.4zM594.98 1028.64h6.4v6.4h-6.4zM596.09 1028.82h6.4v6.4h-6.4zM597.19 1028.83h6.4v6.4h-6.4zM598.3 1028.63h6.4v6.4h-6.4zM599.41 1028.65h6.4v6.4h-6.4zM600.52 1028.71h6.4v6.4h-6.4zM601.63 1028.77h6.4v6.4h-6.4zM602.74 1028.69h6.4v6.4h-6.4zM603.85 1028.7h6.4v6.4h-6.4zM604.96 1028.5h6.4v6.4h-6.4zM606.07 1028.83h6.4v6.4h-6.4zM607.18 1028.53h6.4v6.4h-6.4zM608.29 1028.5h6.4v6.4h-6.4zM609.4 1028.78h6.4v6.4h-6.4zM610.51 1028.46h6.4v6.4h-6.4zM611.62 1028.55h6.4v6.4h-6.4zM612.73 1028.47h6.4v6.4h-6.4zM613.84 1028.71h6.4v6.4h-6.4zM614.95 1028.68h6.4v6.4h-6.4zM616.06 1028.67h6.4v6.4h-6.4zM617.17 1028.44h6.4v6.4h-6.4zM618.28 1028.6h6.4v6.4h-6.4zM619.38 1028.69h6.4v6.4h-6.4zM620.49 1028.66h6.4v6.4h-6.4zM621.6 1028.72h6.4v6.4h-6.4zM622.71 1028.81h6.4v6.4h-6.4zM623.82 1028.79h6.4v6.4h-6.4zM624.93 1028.5h6.4v6.4h-6.4zM636.62 1028.71h6.4v6.4h-6.4zM637.73 1028.46h6.4v6.4h-6.4zM638.84 1028.73h6.4v6.4h-6.4zM639.95 1028.72h6.4v6.4h-6.4zM641.06 1028.63h6.4v6.4h-6.4zM642.17 1028.75h6.4v6.4h-6.4zM643.28 1028.68h6.4v6.4h-6.4zM644.38 1028.45h6.4v6.4h-6.4zM645.49 1028.48h6.4v6.4h-6.4zM646.6 1028.51h6.4v6.4h-6.4zM647.71 1028.58h6.4v6.4h-6.4zM648.82 1028.47h6.4v6.4h-6.4zM649.93 1028.46h6.4v6.4h-6.4zM651.04 1028.61h6.4v6.4h-6.4zM652.15 1028.55h6.4v6.4h-6.4zM653.26 1028.81h6.4v6.4h-6.4z" fill="#0a7a0a"/>
<rect x="153.5" y="1250.5" width="562" height="162" fill="none" stroke="#000" stroke-width="1" shape-rendering="crispEdges"/>
<path d="M210.5 1412.5v-4.5M210.5 1250.5v4.5M266.5 1412.5v-8.5M266.5 1250.5v8.5M322.5 1412.5v-4.5M322.5 1250.5v4.5M378.5 1412.5v-8.5M378.5 1250.5v8.5M435.5 1412.5v-4.5M435.5 1250.5v4.5M491.5 1412.5v-8.5M491.5 1250.5v8.5M547.5 1412.5v-4.5M547.5 1250.5v4.5M603.5 1412.5v-8.5M603.5 1250.5v8.5M659.5 1412.5v-4.5M659.5 1250.5v4.5M153.5 1371.5h8.5M715.5 1371.5h-8.5M153.5 1331.5h8.5M715.5 1331.5h-8.5M153.5 1290.5h8.5M715.5 1290.5h-8.5M153.5 1391.5h4.5M715.5 1391.5h-4.5M153.5 1351.5h4.5M715.5 1351.5h-4.5M153.5 1311.5h4.5M715.5 1311.5h-4.5M153.5 1270.5h4.5M715.5 1270.5h-4.5" stroke="#000" stroke-width="1" fill="none" shape-rendering="crispEdges"/>
<text x="145" y="1418.7" font-size="23" text-anchor="end" letter-spacing="-0.35">99.6</text>
<text x="145" y="1378.2" font-size="23" text-anchor="end" letter-spacing="-0.35">99.8</text>
<text x="145" y="1337.7" font-size="23" text-anchor="end" letter-spacing="-0.35">100.0</text>
<text x="145" y="1297.2" font-size="23" text-anchor="end" letter-spacing="-0.35">100.2</text>
<text x="145" y="1256.7" font-size="23" text-anchor="end" letter-spacing="-0.35">100.4</text>
<text x="153.5" y="1438.8" font-size="23" text-anchor="middle" letter-spacing="-0.35">0</text>
<text x="265.9" y="1438.8" font-size="23" text-anchor="middle" letter-spacing="-0.35">100</text>
<text x="378.3" y="1438.8" font-size="23" text-anchor="middle" letter-spacing="-0.35">200</text>
<text x="490.7" y="1438.8" font-size="23" text-anchor="middle" letter-spacing="-0.35">300</text>
<text x="603.1" y="1438.8" font-size="23" text-anchor="middle" letter-spacing="-0.35">400</text>
<text x="715.5" y="1438.8" font-size="23" text-anchor="middle" letter-spacing="-0.35">500</text>
<text x="441" y="1466.4" font-size="23" text-anchor="middle" textLength="154" lengthAdjust="spacing">Cycle numbers</text>
<text transform="translate(59.8 1320.8) rotate(-90)" font-size="22" text-anchor="middle" textLength="67" lengthAdjust="spacing">CE(%)</text>
<clipPath id="c3l"><rect x="153.5" y="1250.4" width="562" height="162.2"/></clipPath>
<path clip-path="url(#c3l)" d="M153.5 1328.57L154.62 1327.45L155.75 1330.97L156.87 1338.59L158 1335.19L159.12 1332.23L160.24 1330.92L161.37 1333.06L162.49 1335.46L163.62 1335.53L164.74 1332.42L165.86 1330.06L166.99 1325.68L168.11 1333.39L169.24 1332.73L170.36 1333.58L171.48 1331.96L172.61 1329.61L173.73 1332.58L174.86 1334.48L175.98 1337.33L177.1 1334.7L178.23 1333L179.35 1333.19L180.48 1334.33L181.6 1335.99L182.72 1334.48L183.85 1333.31L184.97 1336.92L186.1 1334.5L187.22 1333.61L188.34 1338.18L189.47 1337.65L190.59 1333.71L191.72 1336.03L192.84 1336.83L193.96 1336.4L195.09 1336.98L196.21 1339.4L197.34 1340.36L198.46 1337.22L199.58 1333.4L200.71 1338.09L201.83 1338.43L202.96 1340.11L204.08 1341.13L205.2 1340.37L206.33 1339.45L207.45 1337.88L208.58 1336.3L209.7 1331.18L210.82 1322.79L211.95 1333.37L212.17 1251L212.96 1412L213.75 1345.67L213.07 1333.91L214.2 1336.19L215.32 1335.97L216.44 1337.47L217.57 1335.31L218.69 1337.88L219.82 1337.07L220.94 1336.05L222.06 1337.26L223.19 1336.91L224.31 1339.05L225.44 1338.37L226.56 1337L227.68 1338.83L228.81 1335.13L229.93 1333.84L231.06 1331.53L232.18 1334.9L233.3 1331.07L234.43 1335.84L235.55 1334.61L236.68 1330.66L237.8 1333.11L238.92 1296.67L240.05 1325.42L241.17 1334.05L242.3 1335.64L243.42 1337.35L244.54 1336.42L245.67 1332.61L246.79 1334.65L247.92 1333.05L249.04 1332.1L250.16 1335.11L251.29 1335.5L252.41 1339.2L253.54 1334.25L254.66 1334.05L255.78 1332.88L256.91 1336.4L258.03 1336.87L259.16 1332.46L260.28 1332.84L261.4 1334.02L262.53 1334.74L263.65 1337.31L264.78 1335.48L265.9 1331.54L267.02 1327.45L268.15 1342.64L269.27 1338.34L270.4 1334.7L271.52 1338.23L272.64 1337.57L273.77 1339.45L274.89 1335.57L276.02 1338.8L277.14 1341.01L278.26 1340.59L279.39 1339.95L280.51 1337.41L281.64 1339.77L282.76 1336.21L283.88 1337.07L285.01 1331.28L286.13 1336.57L287.26 1334.75L288.38 1337.14L289.5 1338.45L290.63 1338.31L291.75 1338.56L292.88 1337.63L294 1339.81L295.12 1338.47L296.25 1340.39L297.37 1339.58L298.5 1334.4L299.62 1338.15L300.74 1335.74L301.87 1337.23L302.99 1337.07L304.12 1336.45L305.24 1334.92L306.36 1336.2L307.49 1339.19L308.61 1334.44L309.74 1335.18L310.86 1332.54L311.98 1335.83L313.11 1333.92L314.23 1334.55L315.36 1337.28L316.48 1251L317.15 1412L317.6 1351.75L316.48 1337.9L317.6 1336.99L318.73 1319.35L319.85 1338.02L320.98 1337.46L322.1 1337.54L323.22 1338.55L324.35 1337.82L325.47 1339.6L326.6 1337.99L327.72 1337.72L328.84 1334.62L329.97 1333.23L331.09 1335.82L332.22 1330.62L333.34 1332.11L334.46 1330.6L335.59 1333.45L336.71 1335.09L337.84 1330.74L338.96 1330.62L340.08 1336.41L341.21 1335.11L342.33 1331.2L343.46 1330.95L344.58 1332L345.7 1331.37L346.83 1331.7L347.95 1329.85L349.08 1329.89L350.2 1329.15L351.32 1319.75L352.45 1318.95L353.57 1332.28L354.7 1335.06L355.82 1331.41L356.94 1336.85L358.07 1335.62L359.19 1335.13L360.32 1337.1L361.44 1337.39L362.56 1340.07L363.69 1338.9L364.81 1339.91L365.94 1340.85L367.06 1343.65L368.18 1340.24L369.31 1338.72L370.43 1340.01L371.56 1340.07L372.68 1336.1L373.8 1340.03L374.93 1335.52L376.05 1335.62L377.18 1334.52L378.3 1336.35L379.42 1337.1L380.55 1335.65L381.67 1333.15L382.8 1333.63L383.92 1351.75L385.04 1335.09L386.17 1340.23L387.29 1336.8L388.42 1339.1L389.54 1331.94L390.66 1337.25L391.79 1335.73L392.91 1328.94L394.04 1330.69L395.16 1332.16L396.28 1332.17L397.41 1335.26L398.53 1332.14L399.66 1337.06L400.78 1341.1L401.9 1339.54L403.03 1341.29L404.15 1339.62L405.28 1334.55L406.4 1330.57L407.52 1334.17L408.65 1331.18L409.77 1332.78L410.9 1336.23L412.02 1341.4L413.14 1337.87L414.27 1338.42L415.39 1340.67L416.52 1336.51L417.64 1334.93L418.76 1336.04L419.89 1338.3L421.01 1334.96L422.14 1334.8L423.26 1339.62L424.38 1341.19L425.51 1336.2L426.63 1336.43L427.76 1341.38L428.88 1339.64L430 1339.75L431.13 1337.72L432.25 1336.39L433.38 1333.9L434.5 1335.23L435.62 1336.4L436.75 1334.3L437.87 1332.47L439 1328.93L440.12 1329.77L441.24 1336.03L442.37 1332.94L443.49 1335.1L444.62 1336.38L445.74 1334.16L446.86 1333.16L447.99 1333.28L449.11 1334.27L450.24 1333.11L451.36 1331.18L452.48 1333.2L453.61 1332.91L454.73 1335.1L455.86 1337.34L456.98 1337.97L458.1 1332.29L459.23 1335.87L460.35 1335.26L461.48 1334.87L462.6 1281.69L463.72 1319.35L464.85 1327.45L465.97 1337.68L467.1 1334.64L468.22 1337.72L469.34 1339.71L470.47 1339.4L471.59 1339.65L472.72 1336.36L473.84 1340.3L474.96 1336.86L476.09 1334.4L477.21 1335.03L478.34 1339.18L479.46 1336.94L480.58 1332.45L481.71 1337.25L482.83 1339.58L483.96 1340.56L485.08 1340.93L486.2 1342.2L487.33 1338.97L488.45 1336.08L489.58 1335.16L490.7 1331.44L491.82 1331.68L492.95 1330.84L494.07 1332.48L495.2 1336.86L496.32 1337.42L497.44 1337.52L498.57 1333.22L499.69 1329.91L500.82 1329.68L501.94 1333.81L503.06 1334.59L504.19 1331.04L505.31 1334.18L506.44 1338.12L507.56 1338.63L508.68 1336.79L509.81 1337.05L510.93 1335.54L512.06 1333.49L513.18 1333.53L514.3 1334.04L515.43 1334.89L516.55 1335.88L517.68 1338.61L518.8 1293.03L519.92 1318.13L521.05 1340.1L522.17 1340.73L523.3 1341.91L524.42 1343.15L525.54 1345.56L526.67 1343.65L527.79 1343.6L528.92 1344.94L530.04 1337.31L531.16 1338.58L532.29 1338.04L533.41 1338.2L534.54 1334.3L535.66 1337.11L536.78 1341.45L537.91 1339.35L539.03 1340.53L540.16 1339.2L541.28 1338.96L542.4 1336.4L543.53 1335.77L544.65 1336.81L545.78 1333.65L546.9 1336L548.02 1339.04L549.15 1334.77L550.27 1331.78L551.4 1331.93L552.52 1332.17L553.64 1330.66L554.77 1333.39L555.89 1332.05L557.02 1330.95L558.14 1334.09L559.26 1333.71L560.39 1335.55L561.51 1336.32L562.64 1333.76L563.76 1331.4L564.88 1330.29L566.01 1330.83L567.13 1334.52L568.26 1334.81L569.38 1334.38L570.5 1335.18L571.63 1335.03L572.75 1333.1L573.88 1336.18L575 1250.5L576.12 1304.37L577.25 1322.39L578.37 1323.4L579.5 1337.03L580.62 1323.81L581.74 1337.01L582.87 1333.88L583.99 1324.41L585.12 1338.17L586.24 1333.58L587.36 1332.6L588.49 1337.7L589.61 1337.18L590.74 1336.27L591.86 1339.04L592.98 1339.91L594.11 1338.56L595.23 1337.3L596.36 1337.67L597.48 1334.7L598.6 1335.85L599.73 1335.35L600.85 1338.5L601.98 1337.59L603.1 1336.61L604.22 1335.89L605.35 1336.75L606.47 1332.14L607.6 1331.05L608.72 1330.71L609.84 1333.7L610.97 1331.47L612.09 1335.67L613.22 1334.6L614.34 1331.53L615.46 1330.85L616.59 1332.17L617.71 1330.83L618.84 1327.86L619.96 1328.28L621.08 1334.33L622.21 1330.84L623.33 1333.29L624.46 1330.78L625.58 1333.89L626.7 1335.55L627.83 1331.76L628.95 1336.43L630.08 1336.62L631.2 1365.92L632.32 1333.45L633.45 1335.02L634.57 1335.86L635.7 1333.47L636.82 1334.26L637.94 1335.97L639.07 1331.93L640.19 1332.07L641.32 1331.45L642.44 1332.89L643.56 1327.38L644.69 1331.58L645.81 1332.53L646.94 1330.76L648.06 1331.67L649.18 1324.01L650.31 1330.91L651.43 1327.77L652.56 1331.35L653.68 1334.65L654.8 1333.88L655.93 1329.87L657.05 1334.79L658.18 1333.64L659.3 1332.37" fill="none" stroke="#7a1fe6" stroke-width="1.4"/>
<path d="M212.17 1251V1335.55M213.07 1351.75V1412M316.48 1251V1335.55M317.27 1351.75V1412" stroke="#7a1fe6" stroke-width="2" fill="none"/>
<path id="d3" d="M150.55 1325.62h5.9v5.9h-5.9zM151.67 1324.5h5.9v5.9h-5.9zM152.8 1328.02h5.9v5.9h-5.9zM153.92 1335.64h5.9v5.9h-5.9zM155.05 1332.24h5.9v5.9h-5.9zM156.17 1329.28h5.9v5.9h-5.9zM157.29 1327.97h5.9v5.9h-5.9zM158.42 1330.11h5.9v5.9h-5.9zM159.54 1332.51h5.9v5.9h-5.9zM160.67 1332.58h5.9v5.9h-5.9zM161.79 1329.47h5.9v5.9h-5.9zM162.91 1327.11h5.9v5.9h-5.9zM164.04 1322.73h5.9v5.9h-5.9zM165.16 1330.44h5.9v5.9h-5.9zM166.29 1329.78h5.9v5.9h-5.9zM167.41 1330.63h5.9v5.9h-5.9zM168.53 1329.01h5.9v5.9h-5.9zM169.66 1326.66h5.9v5.9h-5.9zM170.78 1329.63h5.9v5.9h-5.9zM171.91 1331.53h5.9v5.9h-5.9zM173.03 1334.38h5.9v5.9h-5.9zM174.15 1331.75h5.9v5.9h-5.9zM175.28 1330.05h5.9v5.9h-5.9zM176.4 1330.24h5.9v5.9h-5.9zM177.53 1331.38h5.9v5.9h-5.9zM178.65 1333.04h5.9v5.9h-5.9zM179.77 1331.53h5.9v5.9h-5.9zM180.9 1330.36h5.9v5.9h-5.9zM182.02 1333.97h5.9v5.9h-5.9zM183.15 1331.55h5.9v5.9h-5.9zM184.27 1330.66h5.9v5.9h-5.9zM185.39 1335.23h5.9v5.9h-5.9zM186.52 1334.7h5.9v5.9h-5.9zM187.64 1330.76h5.9v5.9h-5.9zM188.77 1333.08h5.9v5.9h-5.9zM189.89 1333.88h5.9v5.9h-5.9zM191.01 1333.45h5.9v5.9h-5.9zM192.14 1334.03h5.9v5.9h-5.9zM193.26 1336.45h5.9v5.9h-5.9zM194.39 1337.41h5.9v5.9h-5.9zM195.51 1334.27h5.9v5.9h-5.9zM196.63 1330.45h5.9v5.9h-5.9zM197.76 1335.14h5.9v5.9h-5.9zM198.88 1335.48h5.9v5.9h-5.9zM200.01 1337.16h5.9v5.9h-5.9zM201.13 1338.18h5.9v5.9h-5.9zM202.25 1337.42h5.9v5.9h-5.9zM203.38 1336.5h5.9v5.9h-5.9zM204.5 1334.93h5.9v5.9h-5.9zM205.63 1333.35h5.9v5.9h-5.9zM206.75 1328.23h5.9v5.9h-5.9zM207.87 1319.84h5.9v5.9h-5.9zM209 1330.42h5.9v5.9h-5.9zM210.12 1330.96h5.9v5.9h-5.9zM211.25 1333.24h5.9v5.9h-5.9zM212.37 1333.02h5.9v5.9h-5.9zM213.49 1334.52h5.9v5.9h-5.9zM214.62 1332.36h5.9v5.9h-5.9zM215.74 1334.93h5.9v5.9h-5.9zM216.87 1334.12h5.9v5.9h-5.9zM217.99 1333.1h5.9v5.9h-5.9zM219.11 1334.31h5.9v5.9h-5.9zM220.24 1333.96h5.9v5.9h-5.9zM221.36 1336.1h5.9v5.9h-5.9zM222.49 1335.42h5.9v5.9h-5.9zM223.61 1334.05h5.9v5.9h-5.9zM224.73 1335.88h5.9v5.9h-5.9zM225.86 1332.18h5.9v5.9h-5.9zM226.98 1330.89h5.9v5.9h-5.9zM228.11 1328.58h5.9v5.9h-5.9zM229.23 1331.95h5.9v5.9h-5.9zM230.35 1328.12h5.9v5.9h-5.9zM231.48 1332.89h5.9v5.9h-5.9zM232.6 1331.66h5.9v5.9h-5.9zM233.73 1327.71h5.9v5.9h-5.9zM234.85 1330.16h5.9v5.9h-5.9zM235.97 1293.72h5.9v5.9h-5.9zM237.1 1322.47h5.9v5.9h-5.9zM238.22 1331.1h5.9v5.9h-5.9zM239.35 1332.69h5.9v5.9h-5.9zM240.47 1334.4h5.9v5.9h-5.9zM241.59 1333.47h5.9v5.9h-5.9zM242.72 1329.66h5.9v5.9h-5.9zM243.84 1331.7h5.9v5.9h-5.9zM244.97 1330.1h5.9v5.9h-5.9zM246.09 1329.15h5.9v5.9h-5.9zM247.21 1332.16h5.9v5.9h-5.9zM248.34 1332.55h5.9v5.9h-5.9zM249.46 1336.25h5.9v5.9h-5.9zM250.59 1331.3h5.9v5.9h-5.9zM251.71 1331.1h5.9v5.9h-5.9zM252.83 1329.93h5.9v5.9h-5.9zM253.96 1333.45h5.9v5.9h-5.9zM255.08 1333.92h5.9v5.9h-5.9zM256.21 1329.51h5.9v5.9h-5.9zM257.33 1329.89h5.9v5.9h-5.9zM258.45 1331.07h5.9v5.9h-5.9zM259.58 1331.79h5.9v5.9h-5.9zM260.7 1334.36h5.9v5.9h-5.9zM261.83 1332.53h5.9v5.9h-5.9zM262.95 1328.59h5.9v5.9h-5.9zM264.07 1324.5h5.9v5.9h-5.9zM265.2 1339.69h5.9v5.9h-5.9zM266.32 1335.39h5.9v5.9h-5.9zM267.45 1331.75h5.9v5.9h-5.9zM268.57 1335.28h5.9v5.9h-5.9zM269.69 1334.62h5.9v5.9h-5.9zM270.82 1336.5h5.9v5.9h-5.9zM271.94 1332.62h5.9v5.9h-5.9zM273.07 1335.85h5.9v5.9h-5.9zM274.19 1338.06h5.9v5.9h-5.9zM275.31 1337.64h5.9v5.9h-5.9zM276.44 1337h5.9v5.9h-5.9zM277.56 1334.46h5.9v5.9h-5.9zM278.69 1336.82h5.9v5.9h-5.9zM279.81 1333.26h5.9v5.9h-5.9zM280.93 1334.12h5.9v5.9h-5.9zM282.06 1328.33h5.9v5.9h-5.9zM283.18 1333.62h5.9v5.9h-5.9zM284.31 1331.8h5.9v5.9h-5.9zM285.43 1334.19h5.9v5.9h-5.9zM286.55 1335.5h5.9v5.9h-5.9zM287.68 1335.36h5.9v5.9h-5.9zM288.8 1335.61h5.9v5.9h-5.9zM289.93 1334.68h5.9v5.9h-5.9zM291.05 1336.86h5.9v5.9h-5.9zM292.17 1335.52h5.9v5.9h-5.9zM293.3 1337.44h5.9v5.9h-5.9zM294.42 1336.63h5.9v5.9h-5.9zM295.55 1331.45h5.9v5.9h-5.9zM296.67 1335.2h5.9v5.9h-5.9zM297.79 1332.79h5.9v5.9h-5.9zM298.92 1334.28h5.9v5.9h-5.9zM300.04 1334.12h5.9v5.9h-5.9zM301.17 1333.5h5.9v5.9h-5.9zM302.29 1331.97h5.9v5.9h-5.9zM303.41 1333.25h5.9v5.9h-5.9zM304.54 1336.24h5.9v5.9h-5.9zM305.66 1331.49h5.9v5.9h-5.9zM306.79 1332.23h5.9v5.9h-5.9zM307.91 1329.59h5.9v5.9h-5.9zM309.03 1332.88h5.9v5.9h-5.9zM310.16 1330.97h5.9v5.9h-5.9zM311.28 1331.6h5.9v5.9h-5.9zM312.41 1334.33h5.9v5.9h-5.9zM313.53 1334.95h5.9v5.9h-5.9zM314.65 1334.04h5.9v5.9h-5.9zM315.78 1316.4h5.9v5.9h-5.9zM316.9 1335.07h5.9v5.9h-5.9zM318.03 1334.51h5.9v5.9h-5.9zM319.15 1334.59h5.9v5.9h-5.9zM320.27 1335.6h5.9v5.9h-5.9zM321.4 1334.87h5.9v5.9h-5.9zM322.52 1336.65h5.9v5.9h-5.9zM323.65 1335.04h5.9v5.9h-5.9zM324.77 1334.77h5.9v5.9h-5.9zM325.89 1331.67h5.9v5.9h-5.9zM327.02 1330.28h5.9v5.9h-5.9zM328.14 1332.87h5.9v5.9h-5.9zM329.27 1327.67h5.9v5.9h-5.9zM330.39 1329.16h5.9v5.9h-5.9zM331.51 1327.65h5.9v5.9h-5.9zM332.64 1330.5h5.9v5.9h-5.9zM333.76 1332.14h5.9v5.9h-5.9zM334.89 1327.79h5.9v5.9h-5.9zM336.01 1327.67h5.9v5.9h-5.9zM337.13 1333.46h5.9v5.9h-5.9zM338.26 1332.16h5.9v5.9h-5.9zM339.38 1328.25h5.9v5.9h-5.9zM340.51 1328h5.9v5.9h-5.9zM341.63 1329.05h5.9v5.9h-5.9zM342.75 1328.42h5.9v5.9h-5.9zM343.88 1328.75h5.9v5.9h-5.9zM345 1326.9h5.9v5.9h-5.9zM346.13 1326.94h5.9v5.9h-5.9zM347.25 1326.2h5.9v5.9h-5.9zM348.37 1316.8h5.9v5.9h-5.9zM349.5 1316h5.9v5.9h-5.9zM350.62 1329.33h5.9v5.9h-5.9zM351.75 1332.11h5.9v5.9h-5.9zM352.87 1328.46h5.9v5.9h-5.9zM353.99 1333.9h5.9v5.9h-5.9zM355.12 1332.67h5.9v5.9h-5.9zM356.24 1332.18h5.9v5.9h-5.9zM357.37 1334.15h5.9v5.9h-5.9zM358.49 1334.44h5.9v5.9h-5.9zM359.61 1337.12h5.9v5.9h-5.9zM360.74 1335.95h5.9v5.9h-5.9zM361.86 1336.96h5.9v5.9h-5.9zM362.99 1337.9h5.9v5.9h-5.9zM364.11 1340.7h5.9v5.9h-5.9zM365.23 1337.29h5.9v5.9h-5.9zM366.36 1335.77h5.9v5.9h-5.9zM367.48 1337.06h5.9v5.9h-5.9zM368.61 1337.12h5.9v5.9h-5.9zM369.73 1333.15h5.9v5.9h-5.9zM370.85 1337.08h5.9v5.9h-5.9zM371.98 1332.57h5.9v5.9h-5.9zM373.1 1332.67h5.9v5.9h-5.9zM374.23 1331.57h5.9v5.9h-5.9zM375.35 1333.4h5.9v5.9h-5.9zM376.47 1334.15h5.9v5.9h-5.9zM377.6 1332.7h5.9v5.9h-5.9zM378.72 1330.2h5.9v5.9h-5.9zM379.85 1330.68h5.9v5.9h-5.9zM380.97 1348.8h5.9v5.9h-5.9zM382.09 1332.14h5.9v5.9h-5.9zM383.22 1337.28h5.9v5.9h-5.9zM384.34 1333.85h5.9v5.9h-5.9zM385.47 1336.15h5.9v5.9h-5.9zM386.59 1328.99h5.9v5.9h-5.9zM387.71 1334.3h5.9v5.9h-5.9zM388.84 1332.78h5.9v5.9h-5.9zM389.96 1325.99h5.9v5.9h-5.9zM391.09 1327.74h5.9v5.9h-5.9zM392.21 1329.21h5.9v5.9h-5.9zM393.33 1329.22h5.9v5.9h-5.9zM394.46 1332.31h5.9v5.9h-5.9zM395.58 1329.19h5.9v5.9h-5.9zM396.71 1334.11h5.9v5.9h-5.9zM397.83 1338.15h5.9v5.9h-5.9zM398.95 1336.59h5.9v5.9h-5.9zM400.08 1338.34h5.9v5.9h-5.9zM401.2 1336.67h5.9v5.9h-5.9zM402.33 1331.6h5.9v5.9h-5.9zM403.45 1327.62h5.9v5.9h-5.9zM404.57 1331.22h5.9v5.9h-5.9zM405.7 1328.23h5.9v5.9h-5.9zM406.82 1329.83h5.9v5.9h-5.9zM407.95 1333.28h5.9v5.9h-5.9zM409.07 1338.45h5.9v5.9h-5.9zM410.19 1334.92h5.9v5.9h-5.9zM411.32 1335.47h5.9v5.9h-5.9zM412.44 1337.72h5.9v5.9h-5.9zM413.57 1333.56h5.9v5.9h-5.9zM414.69 1331.98h5.9v5.9h-5.9zM415.81 1333.09h5.9v5.9h-5.9zM416.94 1335.35h5.9v5.9h-5.9zM418.06 1332.01h5.9v5.9h-5.9zM419.19 1331.85h5.9v5.9h-5.9zM420.31 1336.67h5.9v5.9h-5.9zM421.43 1338.24h5.9v5.9h-5.9zM422.56 1333.25h5.9v5.9h-5.9zM423.68 1333.48h5.9v5.9h-5.9zM424.81 1338.43h5.9v5.9h-5.9zM425.93 1336.69h5.9v5.9h-5.9zM427.05 1336.8h5.9v5.9h-5.9zM428.18 1334.77h5.9v5.9h-5.9zM429.3 1333.44h5.9v5.9h-5.9zM430.43 1330.95h5.9v5.9h-5.9zM431.55 1332.28h5.9v5.9h-5.9zM432.67 1333.45h5.9v5.9h-5.9zM433.8 1331.35h5.9v5.9h-5.9zM434.92 1329.52h5.9v5.9h-5.9zM436.05 1325.98h5.9v5.9h-5.9zM437.17 1326.82h5.9v5.9h-5.9zM438.29 1333.08h5.9v5.9h-5.9zM439.42 1329.99h5.9v5.9h-5.9zM440.54 1332.15h5.9v5.9h-5.9zM441.67 1333.43h5.9v5.9h-5.9zM442.79 1331.21h5.9v5.9h-5.9zM443.91 1330.21h5.9v5.9h-5.9zM445.04 1330.33h5.9v5.9h-5.9zM446.16 1331.32h5.9v5.9h-5.9zM447.29 1330.16h5.9v5.9h-5.9zM448.41 1328.23h5.9v5.9h-5.9zM449.53 1330.25h5.9v5.9h-5.9zM450.66 1329.96h5.9v5.9h-5.9zM451.78 1332.15h5.9v5.9h-5.9zM452.91 1334.39h5.9v5.9h-5.9zM454.03 1335.02h5.9v5.9h-5.9zM455.15 1329.34h5.9v5.9h-5.9zM456.28 1332.92h5.9v5.9h-5.9zM457.4 1332.31h5.9v5.9h-5.9zM458.53 1331.92h5.9v5.9h-5.9zM459.65 1278.74h5.9v5.9h-5.9zM460.77 1316.4h5.9v5.9h-5.9zM461.9 1324.5h5.9v5.9h-5.9zM463.02 1334.73h5.9v5.9h-5.9zM464.15 1331.69h5.9v5.9h-5.9zM465.27 1334.77h5.9v5.9h-5.9zM466.39 1336.76h5.9v5.9h-5.9zM467.52 1336.45h5.9v5.9h-5.9zM468.64 1336.7h5.9v5.9h-5.9zM469.77 1333.41h5.9v5.9h-5.9zM470.89 1337.35h5.9v5.9h-5.9zM472.01 1333.91h5.9v5.9h-5.9zM473.14 1331.45h5.9v5.9h-5.9zM474.26 1332.08h5.9v5.9h-5.9zM475.39 1336.23h5.9v5.9h-5.9zM476.51 1333.99h5.9v5.9h-5.9zM477.63 1329.5h5.9v5.9h-5.9zM478.76 1334.3h5.9v5.9h-5.9zM479.88 1336.63h5.9v5.9h-5.9zM481.01 1337.61h5.9v5.9h-5.9zM482.13 1337.98h5.9v5.9h-5.9zM483.25 1339.25h5.9v5.9h-5.9zM484.38 1336.02h5.9v5.9h-5.9zM485.5 1333.13h5.9v5.9h-5.9zM486.63 1332.21h5.9v5.9h-5.9zM487.75 1328.49h5.9v5.9h-5.9zM488.87 1328.73h5.9v5.9h-5.9zM490 1327.89h5.9v5.9h-5.9zM491.12 1329.53h5.9v5.9h-5.9zM492.25 1333.91h5.9v5.9h-5.9zM493.37 1334.47h5.9v5.9h-5.9zM494.49 1334.57h5.9v5.9h-5.9zM495.62 1330.27h5.9v5.9h-5.9zM496.74 1326.96h5.9v5.9h-5.9zM497.87 1326.73h5.9v5.9h-5.9zM498.99 1330.86h5.9v5.9h-5.9zM500.11 1331.64h5.9v5.9h-5.9zM501.24 1328.09h5.9v5.9h-5.9zM502.36 1331.23h5.9v5.9h-5.9zM503.49 1335.17h5.9v5.9h-5.9zM504.61 1335.68h5.9v5.9h-5.9zM505.73 1333.84h5.9v5.9h-5.9zM506.86 1334.1h5.9v5.9h-5.9zM507.98 1332.59h5.9v5.9h-5.9zM509.11 1330.54h5.9v5.9h-5.9zM510.23 1330.58h5.9v5.9h-5.9zM511.35 1331.09h5.9v5.9h-5.9zM512.48 1331.94h5.9v5.9h-5.9zM513.6 1332.93h5.9v5.9h-5.9zM514.73 1335.66h5.9v5.9h-5.9zM515.85 1290.08h5.9v5.9h-5.9zM516.97 1315.18h5.9v5.9h-5.9zM518.1 1337.15h5.9v5.9h-5.9zM519.22 1337.78h5.9v5.9h-5.9zM520.35 1338.96h5.9v5.9h-5.9zM521.47 1340.2h5.9v5.9h-5.9zM522.59 1342.61h5.9v5.9h-5.9zM523.72 1340.7h5.9v5.9h-5.9zM524.84 1340.65h5.9v5.9h-5.9zM525.97 1341.99h5.9v5.9h-5.9zM527.09 1334.36h5.9v5.9h-5.9zM528.21 1335.63h5.9v5.9h-5.9zM529.34 1335.09h5.9v5.9h-5.9zM530.46 1335.25h5.9v5.9h-5.9zM531.59 1331.35h5.9v5.9h-5.9zM532.71 1334.16h5.9v5.9h-5.9zM533.83 1338.5h5.9v5.9h-5.9zM534.96 1336.4h5.9v5.9h-5.9zM536.08 1337.58h5.9v5.9h-5.9zM537.21 1336.25h5.9v5.9h-5.9zM538.33 1336.01h5.9v5.9h-5.9zM539.45 1333.45h5.9v5.9h-5.9zM540.58 1332.82h5.9v5.9h-5.9zM541.7 1333.86h5.9v5.9h-5.9zM542.83 1330.7h5.9v5.9h-5.9zM543.95 1333.05h5.9v5.9h-5.9zM545.07 1336.09h5.9v5.9h-5.9zM546.2 1331.82h5.9v5.9h-5.9zM547.32 1328.83h5.9v5.9h-5.9zM548.45 1328.98h5.9v5.9h-5.9zM549.57 1329.22h5.9v5.9h-5.9zM550.69 1327.71h5.9v5.9h-5.9zM551.82 1330.44h5.9v5.9h-5.9zM552.94 1329.1h5.9v5.9h-5.9zM554.07 1328h5.9v5.9h-5.9zM555.19 1331.14h5.9v5.9h-5.9zM556.31 1330.76h5.9v5.9h-5.9zM557.44 1332.6h5.9v5.9h-5.9zM558.56 1333.37h5.9v5.9h-5.9zM559.69 1330.81h5.9v5.9h-5.9zM560.81 1328.45h5.9v5.9h-5.9zM561.93 1327.34h5.9v5.9h-5.9zM563.06 1327.88h5.9v5.9h-5.9zM564.18 1331.57h5.9v5.9h-5.9zM565.31 1331.86h5.9v5.9h-5.9zM566.43 1331.43h5.9v5.9h-5.9zM567.55 1332.23h5.9v5.9h-5.9zM568.68 1332.08h5.9v5.9h-5.9zM569.8 1330.15h5.9v5.9h-5.9zM570.93 1333.23h5.9v5.9h-5.9zM572.05 1247.55h5.9v5.9h-5.9zM573.17 1301.42h5.9v5.9h-5.9zM574.3 1319.44h5.9v5.9h-5.9zM575.42 1320.45h5.9v5.9h-5.9zM576.55 1334.08h5.9v5.9h-5.9zM577.67 1320.86h5.9v5.9h-5.9zM578.79 1334.06h5.9v5.9h-5.9zM579.92 1330.93h5.9v5.9h-5.9zM581.04 1321.46h5.9v5.9h-5.9zM582.17 1335.22h5.9v5.9h-5.9zM583.29 1330.63h5.9v5.9h-5.9zM584.41 1329.65h5.9v5.9h-5.9zM585.54 1334.75h5.9v5.9h-5.9zM586.66 1334.23h5.9v5.9h-5.9zM587.79 1333.32h5.9v5.9h-5.9zM588.91 1336.09h5.9v5.9h-5.9zM590.03 1336.96h5.9v5.9h-5.9zM591.16 1335.61h5.9v5.9h-5.9zM592.28 1334.35h5.9v5.9h-5.9zM593.41 1334.72h5.9v5.9h-5.9zM594.53 1331.75h5.9v5.9h-5.9zM595.65 1332.9h5.9v5.9h-5.9zM596.78 1332.4h5.9v5.9h-5.9zM597.9 1335.55h5.9v5.9h-5.9zM599.03 1334.64h5.9v5.9h-5.9zM600.15 1333.66h5.9v5.9h-5.9zM601.27 1332.94h5.9v5.9h-5.9zM602.4 1333.8h5.9v5.9h-5.9zM603.52 1329.19h5.9v5.9h-5.9zM604.65 1328.1h5.9v5.9h-5.9zM605.77 1327.76h5.9v5.9h-5.9zM606.89 1330.75h5.9v5.9h-5.9zM608.02 1328.52h5.9v5.9h-5.9zM609.14 1332.72h5.9v5.9h-5.9zM610.27 1331.65h5.9v5.9h-5.9zM611.39 1328.58h5.9v5.9h-5.9zM612.51 1327.9h5.9v5.9h-5.9zM613.64 1329.22h5.9v5.9h-5.9zM614.76 1327.88h5.9v5.9h-5.9zM615.89 1324.91h5.9v5.9h-5.9zM617.01 1325.33h5.9v5.9h-5.9zM618.13 1331.38h5.9v5.9h-5.9zM619.26 1327.89h5.9v5.9h-5.9zM620.38 1330.34h5.9v5.9h-5.9zM621.51 1327.83h5.9v5.9h-5.9zM622.63 1330.94h5.9v5.9h-5.9zM623.75 1332.6h5.9v5.9h-5.9zM624.88 1328.81h5.9v5.9h-5.9zM626 1333.48h5.9v5.9h-5.9zM627.13 1333.67h5.9v5.9h-5.9zM628.25 1362.97h5.9v5.9h-5.9zM629.37 1330.5h5.9v5.9h-5.9zM630.5 1332.07h5.9v5.9h-5.9zM631.62 1332.91h5.9v5.9h-5.9zM632.75 1330.52h5.9v5.9h-5.9zM633.87 1331.31h5.9v5.9h-5.9zM634.99 1333.02h5.9v5.9h-5.9zM636.12 1328.98h5.9v5.9h-5.9zM637.24 1329.12h5.9v5.9h-5.9zM638.37 1328.5h5.9v5.9h-5.9zM639.49 1329.94h5.9v5.9h-5.9zM640.61 1324.43h5.9v5.9h-5.9zM641.74 1328.63h5.9v5.9h-5.9zM642.86 1329.58h5.9v5.9h-5.9zM643.99 1327.81h5.9v5.9h-5.9zM645.11 1328.72h5.9v5.9h-5.9zM646.23 1321.06h5.9v5.9h-5.9zM647.36 1327.96h5.9v5.9h-5.9zM648.48 1324.82h5.9v5.9h-5.9zM649.61 1328.4h5.9v5.9h-5.9zM650.73 1331.7h5.9v5.9h-5.9zM651.85 1330.93h5.9v5.9h-5.9zM652.98 1326.92h5.9v5.9h-5.9zM654.1 1331.84h5.9v5.9h-5.9zM655.23 1330.69h5.9v5.9h-5.9zM656.35 1329.42h5.9v5.9h-5.9z" fill="#7a1fe6"/>
<rect x="951.5" y="787.5" width="560" height="162" fill="none" stroke="#000" stroke-width="1" shape-rendering="crispEdges"/>
<path d="M1008.5 949.5v-4.5M1008.5 787.5v4.5M1064.5 949.5v-8.5M1064.5 787.5v8.5M1120.5 949.5v-4.5M1120.5 787.5v4.5M1176.5 949.5v-8.5M1176.5 787.5v8.5M1232.5 949.5v-4.5M1232.5 787.5v4.5M1288.5 949.5v-8.5M1288.5 787.5v8.5M1344.5 949.5v-4.5M1344.5 787.5v4.5M1400.5 949.5v-8.5M1400.5 787.5v8.5M1456.5 949.5v-4.5M1456.5 787.5v4.5M951.5 908.5h8.5M1511.5 908.5h-8.5M951.5 868.5h8.5M1511.5 868.5h-8.5M951.5 827.5h8.5M1511.5 827.5h-8.5M951.5 929.5h4.5M1511.5 929.5h-4.5M951.5 888.5h4.5M1511.5 888.5h-4.5M951.5 848.5h4.5M1511.5 848.5h-4.5M951.5 807.5h4.5M1511.5 807.5h-4.5" stroke="#000" stroke-width="1" fill="none" shape-rendering="crispEdges"/>
<text x="941.8" y="955.7" font-size="23" text-anchor="end" letter-spacing="-0.35">0</text>
<text x="941.8" y="915.2" font-size="23" text-anchor="end" letter-spacing="-0.35">4</text>
<text x="941.8" y="874.7" font-size="23" text-anchor="end" letter-spacing="-0.35">8</text>
<text x="941.8" y="834.2" font-size="23" text-anchor="end" letter-spacing="-0.35">12</text>
<text x="941.8" y="793.7" font-size="23" text-anchor="end" letter-spacing="-0.35">16</text>
<text x="951.5" y="975.8" font-size="23" text-anchor="middle" letter-spacing="-0.35">0</text>
<text x="1063.5" y="975.8" font-size="23" text-anchor="middle" letter-spacing="-0.35">100</text>
<text x="1175.5" y="975.8" font-size="23" text-anchor="middle" letter-spacing="-0.35">200</text>
<text x="1287.5" y="975.8" font-size="23" text-anchor="middle" letter-spacing="-0.35">300</text>
<text x="1399.5" y="975.8" font-size="23" text-anchor="middle" letter-spacing="-0.35">400</text>
<text x="1511.5" y="975.8" font-size="23" text-anchor="middle" letter-spacing="-0.35">500</text>
<text x="1239" y="1003.6" font-size="23" text-anchor="middle" textLength="154" lengthAdjust="spacing">Cycle numbers</text>
<text transform="translate(890.4 860) rotate(-90)" font-size="22" text-anchor="middle" textLength="184.5" lengthAdjust="spacing">Capacity fade (%)</text>
<path id="d4" d="M948.77 945.7h6.8v5.8h-6.8zM949.89 943.5h6.8v5.8h-6.8zM951 941.75h6.8v5.8h-6.8zM952.12 939.7h6.8v5.8h-6.8zM953.23 937.91h6.8v5.8h-6.8zM954.35 936.1h6.8v5.8h-6.8zM955.46 934.11h6.8v5.8h-6.8zM956.58 933h6.8v5.8h-6.8zM957.69 931.25h6.8v5.8h-6.8zM958.81 930.24h6.8v5.8h-6.8zM959.93 928.95h6.8v5.8h-6.8zM961.04 927.65h6.8v5.8h-6.8zM962.16 926.5h6.8v5.8h-6.8zM963.27 925.77h6.8v5.8h-6.8zM964.39 924.74h6.8v5.8h-6.8zM965.5 923.4h6.8v5.8h-6.8zM966.62 922.99h6.8v5.8h-6.8zM967.73 921.78h6.8v5.8h-6.8zM968.85 920.91h6.8v5.8h-6.8zM969.96 920.41h6.8v5.8h-6.8zM971.08 919.19h6.8v5.8h-6.8zM972.19 919.04h6.8v5.8h-6.8zM973.31 918.77h6.8v5.8h-6.8zM974.42 919.02h6.8v5.8h-6.8zM975.54 918.51h6.8v5.8h-6.8zM987.64 905.71h6.8v5.8h-6.8zM988.71 905.14h6.8v5.8h-6.8zM989.78 904.3h6.8v5.8h-6.8zM990.85 904.24h6.8v5.8h-6.8zM991.93 903.24h6.8v5.8h-6.8zM993 902.59h6.8v5.8h-6.8zM994.07 901.8h6.8v5.8h-6.8zM995.15 900.51h6.8v5.8h-6.8zM996.22 899.84h6.8v5.8h-6.8zM997.29 898.8h6.8v5.8h-6.8zM998.36 897.82h6.8v5.8h-6.8zM999.44 896.73h6.8v5.8h-6.8zM1000.51 896.13h6.8v5.8h-6.8zM1001.58 895.08h6.8v5.8h-6.8zM1002.66 894.71h6.8v5.8h-6.8zM1003.73 894.26h6.8v5.8h-6.8zM1004.8 893.72h6.8v5.8h-6.8zM1005.87 893.67h6.8v5.8h-6.8zM1006.95 892.97h6.8v5.8h-6.8zM1008.02 892.85h6.8v5.8h-6.8zM1016.2 886.94h6.8v5.8h-6.8zM1017.27 886.36h6.8v5.8h-6.8zM1018.34 885.51h6.8v5.8h-6.8zM1019.41 884.51h6.8v5.8h-6.8zM1020.48 883.99h6.8v5.8h-6.8zM1021.56 883.19h6.8v5.8h-6.8zM1022.63 882.75h6.8v5.8h-6.8zM1023.7 882.27h6.8v5.8h-6.8zM1024.77 882.01h6.8v5.8h-6.8zM1025.84 881.57h6.8v5.8h-6.8zM1026.92 881.26h6.8v5.8h-6.8zM1027.99 880.9h6.8v5.8h-6.8zM1029.06 881.08h6.8v5.8h-6.8zM1030.13 880.39h6.8v5.8h-6.8zM1031.2 879.99h6.8v5.8h-6.8zM1040.84 875.35h6.8v5.8h-6.8zM1041.93 875.11h6.8v5.8h-6.8zM1043.03 874.42h6.8v5.8h-6.8zM1044.13 874.05h6.8v5.8h-6.8zM1045.23 873.4h6.8v5.8h-6.8zM1046.32 872.42h6.8v5.8h-6.8zM1047.42 872.07h6.8v5.8h-6.8zM1048.52 871.5h6.8v5.8h-6.8zM1049.62 870.88h6.8v5.8h-6.8zM1050.71 870.46h6.8v5.8h-6.8zM1051.81 870.33h6.8v5.8h-6.8zM1052.91 870.01h6.8v5.8h-6.8zM1054.01 869.69h6.8v5.8h-6.8zM1055.1 869.34h6.8v5.8h-6.8zM1056.2 869.09h6.8v5.8h-6.8zM1057.3 868.72h6.8v5.8h-6.8zM1069.06 865.14h6.8v5.8h-6.8zM1070.16 864.42h6.8v5.8h-6.8zM1071.26 864.11h6.8v5.8h-6.8zM1072.36 863.48h6.8v5.8h-6.8zM1073.45 863.43h6.8v5.8h-6.8zM1074.55 862.94h6.8v5.8h-6.8zM1075.65 862.58h6.8v5.8h-6.8zM1076.75 861.69h6.8v5.8h-6.8zM1077.85 861.16h6.8v5.8h-6.8zM1078.95 860.87h6.8v5.8h-6.8zM1080.05 860.6h6.8v5.8h-6.8zM1081.15 859.88h6.8v5.8h-6.8zM1082.24 859.75h6.8v5.8h-6.8zM1083.34 859.77h6.8v5.8h-6.8zM1084.44 859.84h6.8v5.8h-6.8zM1085.54 859.69h6.8v5.8h-6.8zM1086.64 859.5h6.8v5.8h-6.8zM1087.74 859.45h6.8v5.8h-6.8zM1088.84 859.26h6.8v5.8h-6.8zM1089.93 859.01h6.8v5.8h-6.8zM1091.03 858.72h6.8v5.8h-6.8zM1092.13 859.13h6.8v5.8h-6.8zM1104.34 853.86h6.8v5.8h-6.8zM1105.45 853.56h6.8v5.8h-6.8zM1106.55 852.89h6.8v5.8h-6.8zM1107.66 851.84h6.8v5.8h-6.8zM1108.77 851.36h6.8v5.8h-6.8zM1109.87 851.11h6.8v5.8h-6.8zM1110.98 851.83h6.8v5.8h-6.8zM1112.08 852.53h6.8v5.8h-6.8zM1113.19 852.75h6.8v5.8h-6.8zM1114.3 853.06h6.8v5.8h-6.8zM1115.4 853.29h6.8v5.8h-6.8zM1116.51 853.07h6.8v5.8h-6.8zM1117.62 853.01h6.8v5.8h-6.8zM1118.72 852.67h6.8v5.8h-6.8zM1119.83 852.49h6.8v5.8h-6.8zM1120.94 851.79h6.8v5.8h-6.8zM1122.04 851.68h6.8v5.8h-6.8zM1123.15 851.35h6.8v5.8h-6.8zM1124.26 851.06h6.8v5.8h-6.8zM1125.36 850.69h6.8v5.8h-6.8zM1126.47 849.91h6.8v5.8h-6.8zM1127.57 849.88h6.8v5.8h-6.8zM1128.68 849h6.8v5.8h-6.8zM1129.79 849.16h6.8v5.8h-6.8zM1130.89 848.39h6.8v5.8h-6.8zM1132 848.66h6.8v5.8h-6.8zM1133.11 848.55h6.8v5.8h-6.8zM1134.21 847.94h6.8v5.8h-6.8zM1135.32 848.05h6.8v5.8h-6.8zM1136.43 847.57h6.8v5.8h-6.8zM1137.53 847.72h6.8v5.8h-6.8zM1138.64 847.62h6.8v5.8h-6.8zM1139.75 847h6.8v5.8h-6.8zM1140.85 846.86h6.8v5.8h-6.8zM1154.4 843.4h6.8v5.8h-6.8zM1155.3 843.24h6.8v5.8h-6.8zM1156.2 843.39h6.8v5.8h-6.8zM1157.09 842.82h6.8v5.8h-6.8zM1165.27 840.7h6.8v5.8h-6.8zM1166.34 840.95h6.8v5.8h-6.8zM1167.41 840.75h6.8v5.8h-6.8zM1168.49 841.26h6.8v5.8h-6.8zM1169.56 840.92h6.8v5.8h-6.8zM1170.63 841.16h6.8v5.8h-6.8zM1171.71 841.18h6.8v5.8h-6.8zM1172.78 840.71h6.8v5.8h-6.8zM1173.85 839.85h6.8v5.8h-6.8zM1174.93 839.28h6.8v5.8h-6.8zM1176 839.25h6.8v5.8h-6.8zM1177.07 838.64h6.8v5.8h-6.8zM1178.15 837.91h6.8v5.8h-6.8zM1187.33 836.36h6.8v5.8h-6.8zM1188.23 835.76h6.8v5.8h-6.8zM1189.12 835.88h6.8v5.8h-6.8zM1190.02 836.05h6.8v5.8h-6.8zM1190.92 835.78h6.8v5.8h-6.8zM1199.65 835.39h6.8v5.8h-6.8zM1200.49 836.42h6.8v5.8h-6.8zM1201.33 837.24h6.8v5.8h-6.8zM1209.84 834.51h6.8v5.8h-6.8zM1219.36 832.21h6.8v5.8h-6.8zM1220.46 832.22h6.8v5.8h-6.8zM1221.56 831.8h6.8v5.8h-6.8zM1222.66 831.56h6.8v5.8h-6.8zM1223.76 831.43h6.8v5.8h-6.8zM1224.86 831.2h6.8v5.8h-6.8zM1225.95 830.71h6.8v5.8h-6.8zM1227.05 830.36h6.8v5.8h-6.8zM1228.15 830.2h6.8v5.8h-6.8zM1229.25 830.09h6.8v5.8h-6.8zM1230.35 830h6.8v5.8h-6.8zM1231.45 829.89h6.8v5.8h-6.8zM1232.54 829.08h6.8v5.8h-6.8zM1233.64 829h6.8v5.8h-6.8zM1234.74 828.67h6.8v5.8h-6.8zM1235.84 828.72h6.8v5.8h-6.8zM1236.94 828.39h6.8v5.8h-6.8zM1238.04 828.04h6.8v5.8h-6.8zM1239.13 828h6.8v5.8h-6.8zM1240.23 828.02h6.8v5.8h-6.8zM1241.33 828.07h6.8v5.8h-6.8zM1242.43 827.87h6.8v5.8h-6.8zM1243.53 827.46h6.8v5.8h-6.8zM1244.63 827.65h6.8v5.8h-6.8zM1245.72 827.34h6.8v5.8h-6.8zM1246.82 827.26h6.8v5.8h-6.8zM1247.92 826.96h6.8v5.8h-6.8zM1249.02 826.88h6.8v5.8h-6.8zM1250.12 827.08h6.8v5.8h-6.8zM1251.22 827.12h6.8v5.8h-6.8zM1252.31 826.84h6.8v5.8h-6.8zM1253.41 826.62h6.8v5.8h-6.8zM1266.07 825.95h6.8v5.8h-6.8zM1267.16 825.53h6.8v5.8h-6.8zM1268.26 825.21h6.8v5.8h-6.8zM1269.35 825.45h6.8v5.8h-6.8zM1270.45 824.69h6.8v5.8h-6.8zM1271.55 824.42h6.8v5.8h-6.8zM1272.64 824.11h6.8v5.8h-6.8zM1273.74 824.01h6.8v5.8h-6.8zM1274.83 823.92h6.8v5.8h-6.8zM1275.93 823.29h6.8v5.8h-6.8zM1277.02 823.04h6.8v5.8h-6.8zM1278.12 822.84h6.8v5.8h-6.8zM1279.21 822.42h6.8v5.8h-6.8zM1280.31 822.49h6.8v5.8h-6.8zM1281.4 822.37h6.8v5.8h-6.8zM1282.5 821.81h6.8v5.8h-6.8zM1283.6 821.38h6.8v5.8h-6.8zM1284.69 821.47h6.8v5.8h-6.8zM1285.79 820.97h6.8v5.8h-6.8zM1286.88 820.79h6.8v5.8h-6.8zM1287.98 821.15h6.8v5.8h-6.8zM1289.07 820.85h6.8v5.8h-6.8zM1290.17 820.75h6.8v5.8h-6.8zM1291.26 820.81h6.8v5.8h-6.8zM1292.36 820.9h6.8v5.8h-6.8zM1293.46 820.8h6.8v5.8h-6.8zM1294.55 820.44h6.8v5.8h-6.8zM1295.65 820.35h6.8v5.8h-6.8zM1296.74 820.48h6.8v5.8h-6.8zM1297.84 820.64h6.8v5.8h-6.8zM1298.93 820.14h6.8v5.8h-6.8zM1300.03 820.09h6.8v5.8h-6.8zM1301.12 820.36h6.8v5.8h-6.8zM1310.14 818.69h6.8v5.8h-6.8zM1318.15 820.13h6.8v5.8h-6.8zM1319.25 819.79h6.8v5.8h-6.8zM1320.35 819.67h6.8v5.8h-6.8zM1321.46 819.35h6.8v5.8h-6.8zM1322.56 818.94h6.8v5.8h-6.8zM1323.66 818.84h6.8v5.8h-6.8zM1324.76 818.49h6.8v5.8h-6.8zM1325.87 818.16h6.8v5.8h-6.8zM1326.97 817.5h6.8v5.8h-6.8zM1328.07 817.36h6.8v5.8h-6.8zM1329.18 816.9h6.8v5.8h-6.8zM1330.28 816.65h6.8v5.8h-6.8zM1331.38 816.24h6.8v5.8h-6.8zM1332.48 816.12h6.8v5.8h-6.8zM1333.59 815.84h6.8v5.8h-6.8zM1334.69 814.95h6.8v5.8h-6.8zM1335.79 815.14h6.8v5.8h-6.8zM1336.9 815.12h6.8v5.8h-6.8zM1338 814.62h6.8v5.8h-6.8zM1339.1 814.34h6.8v5.8h-6.8zM1340.2 814.54h6.8v5.8h-6.8zM1341.31 814.09h6.8v5.8h-6.8zM1342.41 814.06h6.8v5.8h-6.8zM1343.51 813.77h6.8v5.8h-6.8zM1344.61 813.89h6.8v5.8h-6.8zM1345.72 813.7h6.8v5.8h-6.8zM1346.82 812.94h6.8v5.8h-6.8zM1347.92 812.83h6.8v5.8h-6.8zM1349.03 812.88h6.8v5.8h-6.8zM1350.13 812.72h6.8v5.8h-6.8zM1351.23 812.81h6.8v5.8h-6.8zM1352.33 812.4h6.8v5.8h-6.8zM1353.44 812.52h6.8v5.8h-6.8zM1354.54 812.11h6.8v5.8h-6.8zM1355.64 812.12h6.8v5.8h-6.8zM1356.74 811.99h6.8v5.8h-6.8zM1357.85 811.81h6.8v5.8h-6.8zM1358.95 812.15h6.8v5.8h-6.8zM1360.05 812.18h6.8v5.8h-6.8zM1361.16 811.99h6.8v5.8h-6.8zM1370.34 812.95h6.8v5.8h-6.8zM1371.45 812.53h6.8v5.8h-6.8zM1372.56 812.06h6.8v5.8h-6.8zM1373.66 811.26h6.8v5.8h-6.8zM1374.77 810.59h6.8v5.8h-6.8zM1375.88 810.35h6.8v5.8h-6.8zM1376.99 809.57h6.8v5.8h-6.8zM1378.1 810.07h6.8v5.8h-6.8zM1379.2 811.41h6.8v5.8h-6.8zM1380.31 811.92h6.8v5.8h-6.8zM1381.42 812.66h6.8v5.8h-6.8zM1382.53 812.57h6.8v5.8h-6.8zM1383.63 811.8h6.8v5.8h-6.8zM1384.74 811.97h6.8v5.8h-6.8zM1385.85 811.53h6.8v5.8h-6.8zM1386.96 811.22h6.8v5.8h-6.8zM1388.07 810.77h6.8v5.8h-6.8zM1389.17 810.69h6.8v5.8h-6.8zM1390.28 810.6h6.8v5.8h-6.8zM1391.39 810.31h6.8v5.8h-6.8zM1392.5 810.22h6.8v5.8h-6.8zM1393.61 809.48h6.8v5.8h-6.8zM1394.71 809.2h6.8v5.8h-6.8zM1395.82 809.41h6.8v5.8h-6.8zM1396.93 809.37h6.8v5.8h-6.8zM1398.04 809.1h6.8v5.8h-6.8zM1399.15 808.91h6.8v5.8h-6.8zM1400.25 808.44h6.8v5.8h-6.8zM1401.36 808.31h6.8v5.8h-6.8zM1402.47 808.21h6.8v5.8h-6.8zM1403.58 808.56h6.8v5.8h-6.8zM1404.68 807.97h6.8v5.8h-6.8zM1405.79 807.89h6.8v5.8h-6.8zM1406.9 807.79h6.8v5.8h-6.8zM1408.01 807.45h6.8v5.8h-6.8zM1409.12 807.88h6.8v5.8h-6.8zM1410.22 807.69h6.8v5.8h-6.8zM1411.33 807.19h6.8v5.8h-6.8zM1419.96 806.45h6.8v5.8h-6.8zM1421.04 806.46h6.8v5.8h-6.8zM1422.12 806.54h6.8v5.8h-6.8zM1423.2 806.21h6.8v5.8h-6.8zM1424.29 805.96h6.8v5.8h-6.8zM1425.37 806.21h6.8v5.8h-6.8zM1426.45 805.93h6.8v5.8h-6.8zM1427.53 805.82h6.8v5.8h-6.8zM1428.62 805.75h6.8v5.8h-6.8zM1429.7 805.39h6.8v5.8h-6.8zM1430.78 805.43h6.8v5.8h-6.8zM1431.87 805.24h6.8v5.8h-6.8zM1432.95 805.15h6.8v5.8h-6.8zM1441.12 804.05h6.8v5.8h-6.8zM1442.13 804.36h6.8v5.8h-6.8zM1443.14 803.85h6.8v5.8h-6.8zM1444.15 804.11h6.8v5.8h-6.8zM1445.16 804.18h6.8v5.8h-6.8zM1446.16 803.61h6.8v5.8h-6.8z" fill="#0aeef3"/>
<rect x="951.5" y="1019.5" width="560" height="162" fill="none" stroke="#000" stroke-width="1" shape-rendering="crispEdges"/>
<path d="M1008.5 1181.5v-4.5M1008.5 1019.5v4.5M1064.5 1181.5v-8.5M1064.5 1019.5v8.5M1120.5 1181.5v-4.5M1120.5 1019.5v4.5M1176.5 1181.5v-8.5M1176.5 1019.5v8.5M1232.5 1181.5v-4.5M1232.5 1019.5v4.5M1288.5 1181.5v-8.5M1288.5 1019.5v8.5M1344.5 1181.5v-4.5M1344.5 1019.5v4.5M1400.5 1181.5v-8.5M1400.5 1019.5v8.5M1456.5 1181.5v-4.5M1456.5 1019.5v4.5M951.5 1116.5h8.5M1511.5 1116.5h-8.5M951.5 1051.5h8.5M1511.5 1051.5h-8.5M951.5 1148.5h4.5M1511.5 1148.5h-4.5M951.5 1083.5h4.5M1511.5 1083.5h-4.5" stroke="#000" stroke-width="1" fill="none" shape-rendering="crispEdges"/>
<text x="942.2" y="1187.7" font-size="23" text-anchor="end" letter-spacing="-0.35">3.84</text>
<text x="942.2" y="1122.8" font-size="23" text-anchor="end" letter-spacing="-0.35">3.88</text>
<text x="942.2" y="1057.9" font-size="23" text-anchor="end" letter-spacing="-0.35">3.92</text>
<text x="951.5" y="1206.7" font-size="23" text-anchor="middle" letter-spacing="-0.35">0</text>
<text x="1063.5" y="1206.7" font-size="23" text-anchor="middle" letter-spacing="-0.35">100</text>
<text x="1175.5" y="1206.7" font-size="23" text-anchor="middle" letter-spacing="-0.35">200</text>
<text x="1287.5" y="1206.7" font-size="23" text-anchor="middle" letter-spacing="-0.35">300</text>
<text x="1399.5" y="1206.7" font-size="23" text-anchor="middle" letter-spacing="-0.35">400</text>
<text x="1511.5" y="1206.7" font-size="23" text-anchor="middle" letter-spacing="-0.35">500</text>
<text x="1238.5" y="1234.3" font-size="23" text-anchor="middle" textLength="154" lengthAdjust="spacing">Cycle numbers</text>
<text transform="translate(871.1 1089.3) rotate(-90)" font-size="22" text-anchor="middle" textLength="100.5" lengthAdjust="spacing">EOCV (V)</text>
<path id="d5" d="M949.02 1160.01h6.2v6.2h-6.2zM950.12 1159.73h6.2v6.2h-6.2zM951.23 1159.76h6.2v6.2h-6.2zM952.33 1159.75h6.2v6.2h-6.2zM953.44 1160.04h6.2v6.2h-6.2zM954.55 1159.92h6.2v6.2h-6.2zM955.65 1159.35h6.2v6.2h-6.2zM956.76 1158.3h6.2v6.2h-6.2zM957.86 1157.61h6.2v6.2h-6.2zM958.97 1156.97h6.2v6.2h-6.2zM960.08 1156.31h6.2v6.2h-6.2zM961.18 1155.63h6.2v6.2h-6.2zM962.29 1154.85h6.2v6.2h-6.2zM963.39 1154.43h6.2v6.2h-6.2zM964.5 1153.82h6.2v6.2h-6.2zM965.61 1153.46h6.2v6.2h-6.2zM966.71 1152.88h6.2v6.2h-6.2zM967.82 1152.4h6.2v6.2h-6.2zM968.92 1151.59h6.2v6.2h-6.2zM970.03 1151.09h6.2v6.2h-6.2zM971.14 1150.67h6.2v6.2h-6.2zM972.24 1149.81h6.2v6.2h-6.2zM973.35 1149.47h6.2v6.2h-6.2zM974.45 1148.83h6.2v6.2h-6.2zM975.56 1148.35h6.2v6.2h-6.2zM987.1 1141.77h6.2v6.2h-6.2zM988.19 1140.82h6.2v6.2h-6.2zM989.29 1140.29h6.2v6.2h-6.2zM990.39 1139.63h6.2v6.2h-6.2zM991.49 1138.78h6.2v6.2h-6.2zM992.58 1138.13h6.2v6.2h-6.2zM993.68 1137.17h6.2v6.2h-6.2zM994.78 1136.76h6.2v6.2h-6.2zM995.88 1135.94h6.2v6.2h-6.2zM996.97 1135.85h6.2v6.2h-6.2zM998.07 1135.07h6.2v6.2h-6.2zM999.17 1134.71h6.2v6.2h-6.2zM1000.27 1134.43h6.2v6.2h-6.2zM1001.36 1133.88h6.2v6.2h-6.2zM1002.46 1133.5h6.2v6.2h-6.2zM1003.56 1133.06h6.2v6.2h-6.2zM1015.1 1126.83h6.2v6.2h-6.2zM1016.19 1126.3h6.2v6.2h-6.2zM1017.29 1125.6h6.2v6.2h-6.2zM1018.39 1125.14h6.2v6.2h-6.2zM1019.49 1124.71h6.2v6.2h-6.2zM1020.58 1124.57h6.2v6.2h-6.2zM1021.68 1124.04h6.2v6.2h-6.2zM1022.78 1123.34h6.2v6.2h-6.2zM1023.88 1123.21h6.2v6.2h-6.2zM1024.97 1122.49h6.2v6.2h-6.2zM1026.07 1122.26h6.2v6.2h-6.2zM1027.17 1121.64h6.2v6.2h-6.2zM1028.27 1121.65h6.2v6.2h-6.2zM1029.36 1120.98h6.2v6.2h-6.2zM1030.46 1120.8h6.2v6.2h-6.2zM1031.56 1120.52h6.2v6.2h-6.2zM1043.1 1116.98h6.2v6.2h-6.2zM1044.18 1116.37h6.2v6.2h-6.2zM1045.26 1116.21h6.2v6.2h-6.2zM1046.34 1116.06h6.2v6.2h-6.2zM1047.43 1115.67h6.2v6.2h-6.2zM1048.51 1115.2h6.2v6.2h-6.2zM1049.59 1115.19h6.2v6.2h-6.2zM1050.67 1114.77h6.2v6.2h-6.2zM1051.76 1114.65h6.2v6.2h-6.2zM1052.84 1114.44h6.2v6.2h-6.2zM1053.92 1114.03h6.2v6.2h-6.2zM1055.01 1113.88h6.2v6.2h-6.2zM1056.09 1113.9h6.2v6.2h-6.2zM1057.17 1113.77h6.2v6.2h-6.2zM1058.25 1113.58h6.2v6.2h-6.2zM1059.34 1113.2h6.2v6.2h-6.2zM1071.1 1111.81h6.2v6.2h-6.2zM1072.21 1111.73h6.2v6.2h-6.2zM1073.32 1111.59h6.2v6.2h-6.2zM1074.43 1111.27h6.2v6.2h-6.2zM1075.55 1111.07h6.2v6.2h-6.2zM1076.66 1110.86h6.2v6.2h-6.2zM1077.77 1110.78h6.2v6.2h-6.2zM1078.88 1110.76h6.2v6.2h-6.2zM1080 1110.64h6.2v6.2h-6.2zM1081.11 1110.2h6.2v6.2h-6.2zM1082.22 1110.14h6.2v6.2h-6.2zM1083.33 1109.83h6.2v6.2h-6.2zM1084.45 1109.91h6.2v6.2h-6.2zM1085.56 1109.43h6.2v6.2h-6.2zM1086.67 1109.43h6.2v6.2h-6.2zM1087.78 1109.05h6.2v6.2h-6.2zM1108.95 1107.04h6.2v6.2h-6.2zM1110.07 1107.12h6.2v6.2h-6.2zM1111.19 1107.24h6.2v6.2h-6.2zM1112.31 1106.17h6.2v6.2h-6.2zM1113.43 1104.39h6.2v6.2h-6.2zM1114.55 1102.96h6.2v6.2h-6.2zM1115.67 1103.15h6.2v6.2h-6.2zM1116.79 1103.14h6.2v6.2h-6.2zM1117.91 1102.85h6.2v6.2h-6.2zM1119.03 1102.99h6.2v6.2h-6.2zM1120.15 1103.03h6.2v6.2h-6.2zM1121.27 1102.91h6.2v6.2h-6.2zM1122.39 1102.78h6.2v6.2h-6.2zM1123.51 1102.97h6.2v6.2h-6.2zM1124.63 1102.73h6.2v6.2h-6.2zM1125.75 1102.72h6.2v6.2h-6.2zM1126.87 1102.65h6.2v6.2h-6.2zM1127.99 1102.77h6.2v6.2h-6.2zM1129.11 1102.53h6.2v6.2h-6.2zM1130.23 1102.48h6.2v6.2h-6.2zM1131.35 1102.45h6.2v6.2h-6.2zM1132.47 1102.66h6.2v6.2h-6.2zM1133.59 1102.5h6.2v6.2h-6.2zM1134.71 1102.61h6.2v6.2h-6.2zM1135.83 1102.46h6.2v6.2h-6.2zM1136.95 1102.72h6.2v6.2h-6.2zM1138.07 1102.39h6.2v6.2h-6.2zM1139.19 1102.35h6.2v6.2h-6.2zM1140.31 1102.52h6.2v6.2h-6.2zM1141.43 1102.51h6.2v6.2h-6.2zM1142.55 1102.49h6.2v6.2h-6.2zM1143.67 1102.48h6.2v6.2h-6.2zM1165.06 1102.32h6.2v6.2h-6.2zM1166.17 1101.95h6.2v6.2h-6.2zM1167.28 1102.23h6.2v6.2h-6.2zM1168.39 1102.25h6.2v6.2h-6.2zM1169.5 1102.27h6.2v6.2h-6.2zM1170.61 1102.21h6.2v6.2h-6.2zM1171.72 1101.98h6.2v6.2h-6.2zM1172.83 1102.29h6.2v6.2h-6.2zM1173.94 1102.25h6.2v6.2h-6.2zM1175.05 1102.02h6.2v6.2h-6.2zM1176.16 1102.21h6.2v6.2h-6.2zM1177.26 1102.27h6.2v6.2h-6.2zM1178.37 1102.04h6.2v6.2h-6.2zM1179.48 1102.04h6.2v6.2h-6.2zM1180.59 1102.06h6.2v6.2h-6.2zM1181.7 1101.99h6.2v6.2h-6.2zM1182.81 1102.21h6.2v6.2h-6.2zM1183.92 1101.91h6.2v6.2h-6.2zM1185.03 1101.97h6.2v6.2h-6.2zM1186.14 1102.22h6.2v6.2h-6.2zM1187.25 1102.19h6.2v6.2h-6.2zM1188.36 1102.04h6.2v6.2h-6.2zM1189.47 1102.03h6.2v6.2h-6.2zM1190.57 1102.11h6.2v6.2h-6.2zM1191.68 1102.17h6.2v6.2h-6.2zM1192.79 1102.05h6.2v6.2h-6.2zM1193.9 1102.15h6.2v6.2h-6.2zM1195.01 1101.97h6.2v6.2h-6.2zM1196.12 1101.86h6.2v6.2h-6.2zM1197.23 1102.14h6.2v6.2h-6.2zM1198.34 1101.97h6.2v6.2h-6.2zM1199.45 1101.89h6.2v6.2h-6.2zM1221.06 1101.75h6.2v6.2h-6.2zM1222.18 1101.48h6.2v6.2h-6.2zM1223.29 1101.42h6.2v6.2h-6.2zM1224.4 1101.62h6.2v6.2h-6.2zM1225.52 1101.6h6.2v6.2h-6.2zM1226.63 1101.42h6.2v6.2h-6.2zM1227.74 1101.53h6.2v6.2h-6.2zM1228.85 1101.56h6.2v6.2h-6.2zM1229.97 1101.34h6.2v6.2h-6.2zM1231.08 1101.39h6.2v6.2h-6.2zM1232.19 1101.55h6.2v6.2h-6.2zM1233.3 1101.57h6.2v6.2h-6.2zM1234.42 1101.52h6.2v6.2h-6.2zM1235.53 1101.47h6.2v6.2h-6.2zM1236.64 1101.24h6.2v6.2h-6.2zM1237.76 1101.29h6.2v6.2h-6.2zM1238.87 1101.24h6.2v6.2h-6.2zM1239.98 1101.26h6.2v6.2h-6.2zM1241.09 1101.24h6.2v6.2h-6.2zM1242.21 1101.53h6.2v6.2h-6.2zM1243.32 1101.34h6.2v6.2h-6.2zM1244.43 1101.15h6.2v6.2h-6.2zM1245.55 1101.15h6.2v6.2h-6.2zM1246.66 1101.4h6.2v6.2h-6.2zM1247.77 1101.32h6.2v6.2h-6.2zM1248.88 1101.22h6.2v6.2h-6.2zM1250 1101.31h6.2v6.2h-6.2zM1251.11 1101.23h6.2v6.2h-6.2zM1252.22 1101.4h6.2v6.2h-6.2zM1253.33 1101.25h6.2v6.2h-6.2zM1254.45 1101.2h6.2v6.2h-6.2zM1255.56 1101.38h6.2v6.2h-6.2zM1276.95 1100.3h6.2v6.2h-6.2zM1278.07 1099.98h6.2v6.2h-6.2zM1279.18 1100.06h6.2v6.2h-6.2zM1280.3 1099.99h6.2v6.2h-6.2zM1281.42 1100.11h6.2v6.2h-6.2zM1282.53 1100.04h6.2v6.2h-6.2zM1283.65 1100.01h6.2v6.2h-6.2zM1284.77 1100.01h6.2v6.2h-6.2zM1285.88 1100.34h6.2v6.2h-6.2zM1287 1100.11h6.2v6.2h-6.2zM1288.12 1100.25h6.2v6.2h-6.2zM1289.23 1100.09h6.2v6.2h-6.2zM1290.35 1100.25h6.2v6.2h-6.2zM1291.47 1100.15h6.2v6.2h-6.2zM1292.58 1100h6.2v6.2h-6.2zM1293.7 1100.12h6.2v6.2h-6.2zM1294.81 1100.26h6.2v6.2h-6.2zM1295.93 1100.16h6.2v6.2h-6.2zM1297.05 1100.19h6.2v6.2h-6.2zM1298.16 1099.99h6.2v6.2h-6.2zM1299.28 1100.25h6.2v6.2h-6.2zM1300.4 1100.24h6.2v6.2h-6.2zM1301.51 1100.11h6.2v6.2h-6.2zM1302.63 1100.31h6.2v6.2h-6.2zM1303.75 1100.13h6.2v6.2h-6.2zM1304.86 1099.99h6.2v6.2h-6.2zM1305.98 1100.16h6.2v6.2h-6.2zM1307.09 1100.25h6.2v6.2h-6.2zM1308.21 1100.18h6.2v6.2h-6.2zM1309.33 1100.15h6.2v6.2h-6.2zM1310.44 1100.3h6.2v6.2h-6.2zM1311.56 1100.31h6.2v6.2h-6.2zM1332.95 1100.19h6.2v6.2h-6.2zM1334.06 1100.13h6.2v6.2h-6.2zM1335.18 1100.09h6.2v6.2h-6.2zM1336.29 1100.14h6.2v6.2h-6.2zM1337.4 1100.16h6.2v6.2h-6.2zM1338.52 1100.23h6.2v6.2h-6.2zM1339.63 1100.05h6.2v6.2h-6.2zM1340.74 1099.94h6.2v6.2h-6.2zM1341.85 1100.04h6.2v6.2h-6.2zM1342.97 1100.06h6.2v6.2h-6.2zM1344.08 1100.03h6.2v6.2h-6.2zM1345.19 1100.21h6.2v6.2h-6.2zM1346.31 1100.02h6.2v6.2h-6.2zM1347.42 1100.12h6.2v6.2h-6.2zM1348.53 1100.09h6.2v6.2h-6.2zM1349.64 1100.07h6.2v6.2h-6.2zM1350.76 1100.13h6.2v6.2h-6.2zM1351.87 1100.19h6.2v6.2h-6.2zM1352.98 1100.22h6.2v6.2h-6.2zM1354.09 1100.24h6.2v6.2h-6.2zM1355.21 1100.13h6.2v6.2h-6.2zM1356.32 1100.18h6.2v6.2h-6.2zM1357.43 1100.11h6.2v6.2h-6.2zM1358.55 1100.34h6.2v6.2h-6.2zM1359.66 1100.21h6.2v6.2h-6.2zM1360.77 1100.01h6.2v6.2h-6.2zM1361.88 1100.26h6.2v6.2h-6.2zM1363 1100.14h6.2v6.2h-6.2zM1364.11 1100.17h6.2v6.2h-6.2zM1365.22 1100.26h6.2v6.2h-6.2zM1366.34 1099.99h6.2v6.2h-6.2zM1367.45 1100.26h6.2v6.2h-6.2zM1388.84 1097.61h6.2v6.2h-6.2zM1389.96 1097.85h6.2v6.2h-6.2zM1391.07 1097.88h6.2v6.2h-6.2zM1392.19 1097.57h6.2v6.2h-6.2zM1393.31 1097.74h6.2v6.2h-6.2zM1394.42 1097.88h6.2v6.2h-6.2zM1395.54 1097.76h6.2v6.2h-6.2zM1396.65 1097.74h6.2v6.2h-6.2zM1397.77 1097.62h6.2v6.2h-6.2zM1398.89 1097.87h6.2v6.2h-6.2zM1400 1097.82h6.2v6.2h-6.2zM1401.12 1097.53h6.2v6.2h-6.2zM1402.24 1097.62h6.2v6.2h-6.2zM1403.35 1097.85h6.2v6.2h-6.2zM1404.47 1097.78h6.2v6.2h-6.2zM1405.59 1097.77h6.2v6.2h-6.2zM1406.7 1097.64h6.2v6.2h-6.2zM1407.82 1097.67h6.2v6.2h-6.2zM1408.93 1097.58h6.2v6.2h-6.2zM1410.05 1097.59h6.2v6.2h-6.2zM1411.17 1097.71h6.2v6.2h-6.2zM1412.28 1097.62h6.2v6.2h-6.2zM1413.4 1097.62h6.2v6.2h-6.2zM1414.52 1097.61h6.2v6.2h-6.2zM1415.63 1097.72h6.2v6.2h-6.2zM1416.75 1097.6h6.2v6.2h-6.2zM1417.87 1097.63h6.2v6.2h-6.2zM1418.98 1097.55h6.2v6.2h-6.2zM1420.1 1097.86h6.2v6.2h-6.2zM1421.22 1097.57h6.2v6.2h-6.2zM1422.33 1097.91h6.2v6.2h-6.2zM1423.45 1097.61h6.2v6.2h-6.2zM1434.76 1097.48h6.2v6.2h-6.2zM1435.88 1097.52h6.2v6.2h-6.2zM1437 1097.34h6.2v6.2h-6.2zM1438.12 1097.49h6.2v6.2h-6.2zM1439.24 1097.55h6.2v6.2h-6.2zM1440.36 1097.41h6.2v6.2h-6.2zM1441.48 1097.37h6.2v6.2h-6.2zM1442.6 1097.48h6.2v6.2h-6.2zM1443.72 1097.57h6.2v6.2h-6.2zM1444.84 1097.54h6.2v6.2h-6.2zM1445.96 1097.53h6.2v6.2h-6.2zM1447.08 1097.43h6.2v6.2h-6.2zM1448.2 1097.6h6.2v6.2h-6.2zM1449.32 1097.56h6.2v6.2h-6.2zM1450.44 1097.5h6.2v6.2h-6.2zM1451.56 1097.56h6.2v6.2h-6.2z" fill="#0a7a0a"/>
<rect x="951.5" y="1258.5" width="560" height="162" fill="none" stroke="#000" stroke-width="1" shape-rendering="crispEdges"/>
<path d="M1008.5 1420.5v-4.5M1008.5 1258.5v4.5M1064.5 1420.5v-8.5M1064.5 1258.5v8.5M1120.5 1420.5v-4.5M1120.5 1258.5v4.5M1176.5 1420.5v-8.5M1176.5 1258.5v8.5M1232.5 1420.5v-4.5M1232.5 1258.5v4.5M1288.5 1420.5v-8.5M1288.5 1258.5v8.5M1344.5 1420.5v-4.5M1344.5 1258.5v4.5M1400.5 1420.5v-8.5M1400.5 1258.5v8.5M1456.5 1420.5v-4.5M1456.5 1258.5v4.5M951.5 1379.5h8.5M1511.5 1379.5h-8.5M951.5 1339.5h8.5M1511.5 1339.5h-8.5M951.5 1298.5h8.5M1511.5 1298.5h-8.5M951.5 1399.5h4.5M1511.5 1399.5h-4.5M951.5 1359.5h4.5M1511.5 1359.5h-4.5M951.5 1319.5h4.5M1511.5 1319.5h-4.5M951.5 1278.5h4.5M1511.5 1278.5h-4.5" stroke="#000" stroke-width="1" fill="none" shape-rendering="crispEdges"/>
<text x="940.6" y="1426.7" font-size="23" text-anchor="end" letter-spacing="-0.35">99.6</text>
<text x="940.6" y="1386.2" font-size="23" text-anchor="end" letter-spacing="-0.35">99.8</text>
<text x="940.6" y="1345.7" font-size="23" text-anchor="end" letter-spacing="-0.35">100.0</text>
<text x="940.6" y="1305.2" font-size="23" text-anchor="end" letter-spacing="-0.35">100.2</text>
<text x="940.6" y="1264.7" font-size="23" text-anchor="end" letter-spacing="-0.35">100.4</text>
<text x="951.5" y="1445.7" font-size="23" text-anchor="middle" letter-spacing="-0.35">0</text>
<text x="1063.5" y="1445.7" font-size="23" text-anchor="middle" letter-spacing="-0.35">100</text>
<text x="1175.5" y="1445.7" font-size="23" text-anchor="middle" letter-spacing="-0.35">200</text>
<text x="1287.5" y="1445.7" font-size="23" text-anchor="middle" letter-spacing="-0.35">300</text>
<text x="1399.5" y="1445.7" font-size="23" text-anchor="middle" letter-spacing="-0.35">400</text>
<text x="1511.5" y="1445.7" font-size="23" text-anchor="middle" letter-spacing="-0.35">500</text>
<text x="1238" y="1473.3" font-size="23" text-anchor="middle" textLength="154" lengthAdjust="spacing">Cycle numbers</text>
<text transform="translate(858.2 1328.2) rotate(-90)" font-size="22" text-anchor="middle" textLength="67" lengthAdjust="spacing">CE(%)</text>
<clipPath id="c3r"><rect x="951.3" y="1258.1" width="560" height="162.2"/></clipPath>
<path clip-path="url(#c3r)" d="M951.5 1359.19L952.62 1351.99L953.74 1357.99L954.86 1369.1L955.98 1375.19L957.1 1375.68L958.22 1375.1L959.34 1370.9L960.46 1370.98L961.58 1369.19L962.7 1364.58L963.82 1362.07L964.94 1361.21L966.06 1362.58L967.18 1360.91L968.3 1359.52L969.42 1357.84L970.54 1356.86L971.66 1354.07L972.78 1353.01L973.9 1351.64L975.02 1351.33L976.14 1351.8L977.26 1350.2L978.38 1352.96L979.5 1356.52L980.4 1421L980.84 1396.2L980.62 1383.76L981.74 1393.42L982.86 1390.23L983.98 1384.03L985.1 1380.72L986.22 1378.12L987.34 1374.55L988.46 1372.8L989.58 1369.84L990.7 1367.15L991.82 1363.3L992.94 1363.5L994.06 1361.72L995.18 1362.81L996.3 1360.17L997.42 1358.34L998.54 1359.68L999.66 1359.67L1000.78 1357.85L1001.9 1359.38L1003.02 1358.6L1004.14 1356.2L1005.26 1356.46L1006.38 1354.53L1007.5 1362.43L1008.62 1398.4L1009.74 1383.81L1010.86 1376.26L1011.98 1373.08L1013.1 1369.49L1014.22 1363.59L1015.34 1361.69L1016.46 1359.01L1017.58 1355.39L1018.7 1352.8L1019.82 1353.96L1020.94 1352.32L1022.06 1348.96L1023.18 1347.4L1024.3 1347.19L1025.42 1346.3L1026.54 1348.62L1027.66 1346.8L1028.78 1345.93L1029.9 1343.71L1031.02 1344.2L1032.14 1341.86L1033.26 1338.28L1034.38 1339.88L1035.5 1342.73L1036.62 1346.18L1037.74 1356.97L1038.86 1353.54L1039.98 1353.63L1041.1 1351.32L1042.22 1348.96L1043.34 1348.15L1044.46 1346.96L1045.58 1344.72L1046.7 1343.39L1047.82 1341.9L1048.94 1341.67L1050.06 1340.6L1051.18 1342.49L1052.3 1338.83L1053.42 1340.2L1054.54 1340.48L1055.66 1338.49L1056.78 1339.23L1057.9 1338.91L1059.02 1338.8L1060.14 1337.53L1061.26 1337.94L1062.38 1338.67L1063.5 1335.84L1064.62 1327.75L1065.74 1342.98L1066.86 1341.81L1067.98 1337.85L1069.1 1338.08L1070.22 1336.65L1071.34 1337.83L1072.46 1337.43L1073.58 1335.35L1074.7 1334.04L1075.82 1330.93L1076.94 1333.45L1078.06 1336.6L1079.18 1333.22L1080.3 1335.42L1081.42 1335.25L1082.54 1334.16L1083.66 1336.74L1084.78 1337.57L1085.9 1334.21L1087.02 1337.89L1088.14 1339.67L1089.26 1337.15L1090.38 1335.77L1091.5 1333.73L1092.62 1324.52L1093.74 1334.79L1094.86 1339.74L1095.98 1341.69L1097.1 1341.45L1098.22 1338.7L1099.34 1341.9L1100.46 1340.08L1101.58 1340.55L1102.7 1338.28L1103.82 1333.92L1104.94 1335.58L1106.06 1337.82L1107.18 1338.29L1108.3 1341.46L1109.42 1335.32L1110.54 1336.63L1111.66 1336.72L1112.78 1339.59L1113.9 1336.57L1115.02 1335.47L1116.14 1333.8L1117.26 1285.84L1118.38 1367.45L1119.5 1336.97L1120.62 1333.69L1121.74 1335L1122.86 1332.7L1123.98 1333.39L1125.1 1331.6L1126.22 1331.05L1127.34 1331.8L1128.46 1331.17L1129.58 1331.02L1130.7 1329.43L1131.82 1330.89L1132.94 1327.8L1134.06 1333.42L1135.18 1331.33L1136.3 1331.39L1137.42 1330.98L1138.54 1331.27L1139.66 1330.89L1140.78 1330.27L1141.9 1328.49L1143.02 1331.58L1144.14 1331.12L1145.26 1333.85L1146.38 1333.73L1147.5 1331.75L1148.62 1297.38L1149.74 1326.13L1150.86 1332.11L1151.98 1333.1L1153.1 1334.93L1154.22 1330.46L1155.34 1330.52L1156.46 1334.03L1157.58 1334.92L1158.7 1328.96L1159.82 1331.4L1160.94 1328.55L1162.06 1326.89L1163.18 1326.94L1164.3 1326.13L1165.42 1327.27L1166.54 1329.19L1167.66 1330.5L1168.78 1326.92L1169.9 1328.24L1171.02 1327.58L1172.14 1325.51L1173.26 1327.41L1174.38 1331.72L1175.5 1329.88L1176.62 1328.22L1177.74 1330.43L1178.86 1333.69L1179.98 1331.29L1181.1 1328.7L1182.22 1331.12L1183.34 1326.14L1184.46 1330.41L1185.58 1329.91L1186.7 1328.04L1187.82 1335.45L1188.94 1326.39L1190.06 1328.43L1191.18 1328.6L1192.3 1330.82L1193.42 1331.28L1194.54 1327.44L1195.66 1325.8L1196.78 1323.32L1197.9 1328.39L1199.02 1327.42L1200.14 1327.83L1201.26 1326.37L1202.38 1326.37L1203.5 1296.47L1204.62 1327.75L1205.74 1330.21L1206.86 1332.53L1207.98 1330.96L1209.1 1329.4L1210.22 1331.29L1211.34 1330.79L1212.46 1327.87L1213.58 1328.89L1214.7 1328.31L1215.82 1328.02L1216.94 1328.14L1218.06 1328.05L1219.18 1329.54L1220.3 1325.89L1221.42 1327.21L1222.54 1328.88L1223.66 1328.82L1224.78 1326.12L1225.9 1324.6L1227.02 1326.25L1228.14 1325.36L1229.26 1325.39L1230.38 1321.93L1231.5 1326.31L1232.62 1326.26L1233.74 1326.37L1234.86 1325.29L1235.98 1325.37L1237.1 1323.51L1238.22 1326.08L1239.34 1323.08L1240.46 1324.59L1241.58 1325.45L1242.7 1321.81L1243.82 1326.47L1244.94 1327.57L1246.06 1325.37L1247.18 1330.85L1248.3 1327.37L1249.42 1325.35L1250.54 1322.75L1251.66 1323.42L1252.78 1321.66L1253.9 1322.61L1255.02 1325.84L1256.14 1323.6L1257.26 1326.03L1258.38 1323.62L1259.5 1246.35L1260.62 1311.96L1261.74 1326.03L1262.86 1332.61L1263.98 1330.23L1265.1 1327.55L1266.22 1330.66L1267.34 1328.41L1268.46 1330.65L1269.58 1333.1L1270.7 1328.2L1271.82 1330.01L1272.94 1329.92L1274.06 1326.16L1275.18 1329.67L1276.3 1328.74L1277.42 1329.9L1278.54 1328.68L1279.66 1326.46L1280.78 1327.98L1281.9 1331.55L1283.02 1328.55L1284.14 1327.77L1285.26 1326.92L1286.38 1325.98L1287.5 1321.64L1288.62 1323.16L1289.74 1322.3L1290.86 1321.26L1291.98 1323.3L1293.1 1322.75L1294.22 1320.9L1295.34 1321.38L1296.46 1320.74L1297.58 1321.71L1298.7 1324.71L1299.82 1326.8L1300.94 1325.25L1302.06 1325.78L1303.18 1321.85L1304.3 1322.74L1305.42 1323.32L1306.54 1320.06L1307.66 1321.54L1308.78 1324.81L1309.9 1325.99L1311.02 1323.43L1312.14 1323.08L1313.26 1320.77L1314.38 1323.47L1315.5 1281.69L1316.62 1317.23L1317.74 1327.76L1318.86 1324.51L1319.98 1324.29L1321.1 1328.08L1322.22 1329.13L1323.34 1328.62L1324.46 1328.45L1325.58 1330.12L1326.7 1329.7L1327.82 1332.07L1328.94 1329.17L1330.06 1333.72L1331.18 1329.53L1332.3 1331.96L1333.42 1326.43L1334.54 1325.17L1335.66 1325.78L1336.78 1324.56L1337.9 1325.54L1339.02 1327.66L1340.14 1326.92L1341.26 1323.79L1342.38 1324.75L1343.5 1324.61L1344.62 1322.07L1345.74 1323.59L1346.86 1322.84L1347.98 1322.42L1349.1 1325.15L1350.22 1324.46L1351.34 1321.37L1352.46 1323.59L1353.58 1324.59L1354.7 1323.84L1355.82 1323.84L1356.94 1325.99L1358.06 1323.53L1359.18 1327.15L1360.3 1324.82L1361.42 1328.63L1362.54 1330.65L1363.66 1329.43L1364.78 1326.41L1365.9 1326.33L1367.02 1322.81L1368.14 1325.73L1369.26 1325.11L1370.38 1323.27L1371.5 1246.35L1372.62 1307.51L1373.74 1323.45L1374.86 1322.34L1375.98 1323.41L1377.1 1326.08L1378.22 1323.38L1379.34 1325.91L1380.46 1326.25L1381.58 1325.77L1382.7 1327.93L1383.82 1324.87L1384.94 1330.77L1386.06 1327.04L1387.18 1328.55L1388.3 1328.03L1389.42 1330.03L1390.54 1328.83L1391.66 1328.14L1392.78 1328.35L1393.9 1331.95L1395.02 1326.14L1396.14 1324.77L1397.26 1326.67L1398.38 1328.22L1399.5 1331.37L1400.62 1334.42L1401.74 1330.47L1402.86 1331.32L1403.98 1329.83L1405.1 1330.54L1406.22 1325.73L1407.34 1325.62L1408.46 1326.32L1409.58 1330.44L1410.7 1326.32L1411.82 1327.21L1412.94 1325.57L1414.06 1325.88L1415.18 1328.71L1416.3 1328.01L1417.42 1324.48L1418.54 1327.77L1419.66 1325.87L1420.78 1327.55L1421.9 1329.17L1423.02 1330.54L1424.14 1326.77L1425.26 1333.5L1426.38 1327.96L1427.5 1284.83L1428.62 1310.14L1429.74 1320.06L1430.86 1318.91L1431.98 1318.08L1433.1 1320.37L1434.22 1318.53L1435.34 1317.17L1436.46 1321.67L1437.58 1323.3L1438.7 1321.77L1439.82 1322.39L1440.94 1323.32L1442.06 1324.08L1443.18 1326.11L1444.3 1325.1L1445.42 1326.1L1446.54 1328.52L1447.66 1331.15L1448.78 1328.29L1449.9 1326.25L1451.02 1330.21L1452.14 1331.62L1453.26 1331.21L1454.38 1332.7L1455.5 1331.61" fill="none" stroke="#7a1fe6" stroke-width="1.4"/>
<path id="d6" d="M948.55 1356.24h5.9v5.9h-5.9zM949.67 1349.04h5.9v5.9h-5.9zM950.79 1355.04h5.9v5.9h-5.9zM951.91 1366.15h5.9v5.9h-5.9zM953.03 1372.24h5.9v5.9h-5.9zM954.15 1372.73h5.9v5.9h-5.9zM955.27 1372.15h5.9v5.9h-5.9zM956.39 1367.95h5.9v5.9h-5.9zM957.51 1368.03h5.9v5.9h-5.9zM958.63 1366.24h5.9v5.9h-5.9zM959.75 1361.63h5.9v5.9h-5.9zM960.87 1359.12h5.9v5.9h-5.9zM961.99 1358.26h5.9v5.9h-5.9zM963.11 1359.63h5.9v5.9h-5.9zM964.23 1357.96h5.9v5.9h-5.9zM965.35 1356.57h5.9v5.9h-5.9zM966.47 1354.89h5.9v5.9h-5.9zM967.59 1353.91h5.9v5.9h-5.9zM968.71 1351.12h5.9v5.9h-5.9zM969.83 1350.06h5.9v5.9h-5.9zM970.95 1348.69h5.9v5.9h-5.9zM972.07 1348.38h5.9v5.9h-5.9zM973.19 1348.85h5.9v5.9h-5.9zM974.31 1347.25h5.9v5.9h-5.9zM975.43 1350.01h5.9v5.9h-5.9zM976.55 1353.57h5.9v5.9h-5.9zM977.67 1380.81h5.9v5.9h-5.9zM978.79 1390.47h5.9v5.9h-5.9zM979.91 1387.28h5.9v5.9h-5.9zM981.03 1381.08h5.9v5.9h-5.9zM982.15 1377.77h5.9v5.9h-5.9zM983.27 1375.17h5.9v5.9h-5.9zM984.39 1371.6h5.9v5.9h-5.9zM985.51 1369.85h5.9v5.9h-5.9zM986.63 1366.89h5.9v5.9h-5.9zM987.75 1364.2h5.9v5.9h-5.9zM988.87 1360.35h5.9v5.9h-5.9zM989.99 1360.55h5.9v5.9h-5.9zM991.11 1358.77h5.9v5.9h-5.9zM992.23 1359.86h5.9v5.9h-5.9zM993.35 1357.22h5.9v5.9h-5.9zM994.47 1355.39h5.9v5.9h-5.9zM995.59 1356.73h5.9v5.9h-5.9zM996.71 1356.72h5.9v5.9h-5.9zM997.83 1354.9h5.9v5.9h-5.9zM998.95 1356.43h5.9v5.9h-5.9zM1000.07 1355.65h5.9v5.9h-5.9zM1001.19 1353.25h5.9v5.9h-5.9zM1002.31 1353.51h5.9v5.9h-5.9zM1003.43 1351.58h5.9v5.9h-5.9zM1004.55 1359.48h5.9v5.9h-5.9zM1005.67 1395.45h5.9v5.9h-5.9zM1006.79 1380.86h5.9v5.9h-5.9zM1007.91 1373.31h5.9v5.9h-5.9zM1009.03 1370.13h5.9v5.9h-5.9zM1010.15 1366.54h5.9v5.9h-5.9zM1011.27 1360.64h5.9v5.9h-5.9zM1012.39 1358.74h5.9v5.9h-5.9zM1013.51 1356.06h5.9v5.9h-5.9zM1014.63 1352.44h5.9v5.9h-5.9zM1015.75 1349.85h5.9v5.9h-5.9zM1016.87 1351.01h5.9v5.9h-5.9zM1017.99 1349.37h5.9v5.9h-5.9zM1019.11 1346.01h5.9v5.9h-5.9zM1020.23 1344.45h5.9v5.9h-5.9zM1021.35 1344.24h5.9v5.9h-5.9zM1022.47 1343.35h5.9v5.9h-5.9zM1023.59 1345.67h5.9v5.9h-5.9zM1024.71 1343.85h5.9v5.9h-5.9zM1025.83 1342.98h5.9v5.9h-5.9zM1026.95 1340.76h5.9v5.9h-5.9zM1028.07 1341.25h5.9v5.9h-5.9zM1029.19 1338.91h5.9v5.9h-5.9zM1030.31 1335.33h5.9v5.9h-5.9zM1031.43 1336.93h5.9v5.9h-5.9zM1032.55 1339.78h5.9v5.9h-5.9zM1033.67 1343.23h5.9v5.9h-5.9zM1034.79 1354.02h5.9v5.9h-5.9zM1035.91 1350.59h5.9v5.9h-5.9zM1037.03 1350.68h5.9v5.9h-5.9zM1038.15 1348.37h5.9v5.9h-5.9zM1039.27 1346.01h5.9v5.9h-5.9zM1040.39 1345.2h5.9v5.9h-5.9zM1041.51 1344.01h5.9v5.9h-5.9zM1042.63 1341.77h5.9v5.9h-5.9zM1043.75 1340.44h5.9v5.9h-5.9zM1044.87 1338.95h5.9v5.9h-5.9zM1045.99 1338.72h5.9v5.9h-5.9zM1047.11 1337.65h5.9v5.9h-5.9zM1048.23 1339.54h5.9v5.9h-5.9zM1049.35 1335.88h5.9v5.9h-5.9zM1050.47 1337.25h5.9v5.9h-5.9zM1051.59 1337.53h5.9v5.9h-5.9zM1052.71 1335.54h5.9v5.9h-5.9zM1053.83 1336.28h5.9v5.9h-5.9zM1054.95 1335.96h5.9v5.9h-5.9zM1056.07 1335.85h5.9v5.9h-5.9zM1057.19 1334.58h5.9v5.9h-5.9zM1058.31 1334.99h5.9v5.9h-5.9zM1059.43 1335.72h5.9v5.9h-5.9zM1060.55 1332.89h5.9v5.9h-5.9zM1061.67 1324.8h5.9v5.9h-5.9zM1062.79 1340.03h5.9v5.9h-5.9zM1063.91 1338.86h5.9v5.9h-5.9zM1065.03 1334.9h5.9v5.9h-5.9zM1066.15 1335.13h5.9v5.9h-5.9zM1067.27 1333.7h5.9v5.9h-5.9zM1068.39 1334.88h5.9v5.9h-5.9zM1069.51 1334.48h5.9v5.9h-5.9zM1070.63 1332.4h5.9v5.9h-5.9zM1071.75 1331.09h5.9v5.9h-5.9zM1072.87 1327.98h5.9v5.9h-5.9zM1073.99 1330.5h5.9v5.9h-5.9zM1075.11 1333.65h5.9v5.9h-5.9zM1076.23 1330.27h5.9v5.9h-5.9zM1077.35 1332.47h5.9v5.9h-5.9zM1078.47 1332.3h5.9v5.9h-5.9zM1079.59 1331.21h5.9v5.9h-5.9zM1080.71 1333.79h5.9v5.9h-5.9zM1081.83 1334.62h5.9v5.9h-5.9zM1082.95 1331.26h5.9v5.9h-5.9zM1084.07 1334.94h5.9v5.9h-5.9zM1085.19 1336.72h5.9v5.9h-5.9zM1086.31 1334.2h5.9v5.9h-5.9zM1087.43 1332.82h5.9v5.9h-5.9zM1088.55 1330.78h5.9v5.9h-5.9zM1089.67 1321.57h5.9v5.9h-5.9zM1090.79 1331.84h5.9v5.9h-5.9zM1091.91 1336.79h5.9v5.9h-5.9zM1093.03 1338.74h5.9v5.9h-5.9zM1094.15 1338.5h5.9v5.9h-5.9zM1095.27 1335.75h5.9v5.9h-5.9zM1096.39 1338.95h5.9v5.9h-5.9zM1097.51 1337.13h5.9v5.9h-5.9zM1098.63 1337.6h5.9v5.9h-5.9zM1099.75 1335.33h5.9v5.9h-5.9zM1100.87 1330.97h5.9v5.9h-5.9zM1101.99 1332.63h5.9v5.9h-5.9zM1103.11 1334.87h5.9v5.9h-5.9zM1104.23 1335.34h5.9v5.9h-5.9zM1105.35 1338.51h5.9v5.9h-5.9zM1106.47 1332.37h5.9v5.9h-5.9zM1107.59 1333.68h5.9v5.9h-5.9zM1108.71 1333.77h5.9v5.9h-5.9zM1109.83 1336.64h5.9v5.9h-5.9zM1110.95 1333.62h5.9v5.9h-5.9zM1112.07 1332.52h5.9v5.9h-5.9zM1113.19 1330.85h5.9v5.9h-5.9zM1114.31 1282.89h5.9v5.9h-5.9zM1115.43 1364.5h5.9v5.9h-5.9zM1116.55 1334.02h5.9v5.9h-5.9zM1117.67 1330.74h5.9v5.9h-5.9zM1118.79 1332.05h5.9v5.9h-5.9zM1119.91 1329.75h5.9v5.9h-5.9zM1121.03 1330.44h5.9v5.9h-5.9zM1122.15 1328.65h5.9v5.9h-5.9zM1123.27 1328.1h5.9v5.9h-5.9zM1124.39 1328.85h5.9v5.9h-5.9zM1125.51 1328.22h5.9v5.9h-5.9zM1126.63 1328.07h5.9v5.9h-5.9zM1127.75 1326.48h5.9v5.9h-5.9zM1128.87 1327.94h5.9v5.9h-5.9zM1129.99 1324.85h5.9v5.9h-5.9zM1131.11 1330.47h5.9v5.9h-5.9zM1132.23 1328.38h5.9v5.9h-5.9zM1133.35 1328.44h5.9v5.9h-5.9zM1134.47 1328.03h5.9v5.9h-5.9zM1135.59 1328.32h5.9v5.9h-5.9zM1136.71 1327.94h5.9v5.9h-5.9zM1137.83 1327.32h5.9v5.9h-5.9zM1138.95 1325.54h5.9v5.9h-5.9zM1140.07 1328.63h5.9v5.9h-5.9zM1141.19 1328.17h5.9v5.9h-5.9zM1142.31 1330.9h5.9v5.9h-5.9zM1143.43 1330.78h5.9v5.9h-5.9zM1144.55 1328.8h5.9v5.9h-5.9zM1145.67 1294.43h5.9v5.9h-5.9zM1146.79 1323.18h5.9v5.9h-5.9zM1147.91 1329.16h5.9v5.9h-5.9zM1149.03 1330.15h5.9v5.9h-5.9zM1150.15 1331.98h5.9v5.9h-5.9zM1151.27 1327.51h5.9v5.9h-5.9zM1152.39 1327.57h5.9v5.9h-5.9zM1153.51 1331.08h5.9v5.9h-5.9zM1154.63 1331.97h5.9v5.9h-5.9zM1155.75 1326.01h5.9v5.9h-5.9zM1156.87 1328.45h5.9v5.9h-5.9zM1157.99 1325.6h5.9v5.9h-5.9zM1159.11 1323.94h5.9v5.9h-5.9zM1160.23 1323.99h5.9v5.9h-5.9zM1161.35 1323.18h5.9v5.9h-5.9zM1162.47 1324.32h5.9v5.9h-5.9zM1163.59 1326.24h5.9v5.9h-5.9zM1164.71 1327.55h5.9v5.9h-5.9zM1165.83 1323.97h5.9v5.9h-5.9zM1166.95 1325.29h5.9v5.9h-5.9zM1168.07 1324.63h5.9v5.9h-5.9zM1169.19 1322.56h5.9v5.9h-5.9zM1170.31 1324.46h5.9v5.9h-5.9zM1171.43 1328.77h5.9v5.9h-5.9zM1172.55 1326.93h5.9v5.9h-5.9zM1173.67 1325.27h5.9v5.9h-5.9zM1174.79 1327.48h5.9v5.9h-5.9zM1175.91 1330.74h5.9v5.9h-5.9zM1177.03 1328.34h5.9v5.9h-5.9zM1178.15 1325.75h5.9v5.9h-5.9zM1179.27 1328.17h5.9v5.9h-5.9zM1180.39 1323.19h5.9v5.9h-5.9zM1181.51 1327.46h5.9v5.9h-5.9zM1182.63 1326.96h5.9v5.9h-5.9zM1183.75 1325.09h5.9v5.9h-5.9zM1184.87 1332.5h5.9v5.9h-5.9zM1185.99 1323.44h5.9v5.9h-5.9zM1187.11 1325.48h5.9v5.9h-5.9zM1188.23 1325.65h5.9v5.9h-5.9zM1189.35 1327.87h5.9v5.9h-5.9zM1190.47 1328.33h5.9v5.9h-5.9zM1191.59 1324.49h5.9v5.9h-5.9zM1192.71 1322.85h5.9v5.9h-5.9zM1193.83 1320.37h5.9v5.9h-5.9zM1194.95 1325.44h5.9v5.9h-5.9zM1196.07 1324.47h5.9v5.9h-5.9zM1197.19 1324.88h5.9v5.9h-5.9zM1198.31 1323.42h5.9v5.9h-5.9zM1199.43 1323.42h5.9v5.9h-5.9zM1200.55 1293.52h5.9v5.9h-5.9zM1201.67 1324.8h5.9v5.9h-5.9zM1202.79 1327.26h5.9v5.9h-5.9zM1203.91 1329.58h5.9v5.9h-5.9zM1205.03 1328.01h5.9v5.9h-5.9zM1206.15 1326.45h5.9v5.9h-5.9zM1207.27 1328.34h5.9v5.9h-5.9zM1208.39 1327.84h5.9v5.9h-5.9zM1209.51 1324.92h5.9v5.9h-5.9zM1210.63 1325.94h5.9v5.9h-5.9zM1211.75 1325.36h5.9v5.9h-5.9zM1212.87 1325.07h5.9v5.9h-5.9zM1213.99 1325.19h5.9v5.9h-5.9zM1215.11 1325.1h5.9v5.9h-5.9zM1216.23 1326.59h5.9v5.9h-5.9zM1217.35 1322.94h5.9v5.9h-5.9zM1218.47 1324.26h5.9v5.9h-5.9zM1219.59 1325.93h5.9v5.9h-5.9zM1220.71 1325.87h5.9v5.9h-5.9zM1221.83 1323.17h5.9v5.9h-5.9zM1222.95 1321.65h5.9v5.9h-5.9zM1224.07 1323.3h5.9v5.9h-5.9zM1225.19 1322.41h5.9v5.9h-5.9zM1226.31 1322.44h5.9v5.9h-5.9zM1227.43 1318.98h5.9v5.9h-5.9zM1228.55 1323.36h5.9v5.9h-5.9zM1229.67 1323.31h5.9v5.9h-5.9zM1230.79 1323.42h5.9v5.9h-5.9zM1231.91 1322.34h5.9v5.9h-5.9zM1233.03 1322.42h5.9v5.9h-5.9zM1234.15 1320.56h5.9v5.9h-5.9zM1235.27 1323.13h5.9v5.9h-5.9zM1236.39 1320.13h5.9v5.9h-5.9zM1237.51 1321.64h5.9v5.9h-5.9zM1238.63 1322.5h5.9v5.9h-5.9zM1239.75 1318.86h5.9v5.9h-5.9zM1240.87 1323.52h5.9v5.9h-5.9zM1241.99 1324.62h5.9v5.9h-5.9zM1243.11 1322.42h5.9v5.9h-5.9zM1244.23 1327.9h5.9v5.9h-5.9zM1245.35 1324.42h5.9v5.9h-5.9zM1246.47 1322.4h5.9v5.9h-5.9zM1247.59 1319.8h5.9v5.9h-5.9zM1248.71 1320.47h5.9v5.9h-5.9zM1249.83 1318.71h5.9v5.9h-5.9zM1250.95 1319.66h5.9v5.9h-5.9zM1252.07 1322.89h5.9v5.9h-5.9zM1253.19 1320.65h5.9v5.9h-5.9zM1254.31 1323.08h5.9v5.9h-5.9zM1255.43 1320.67h5.9v5.9h-5.9zM1257.67 1309.01h5.9v5.9h-5.9zM1258.79 1323.08h5.9v5.9h-5.9zM1259.91 1329.66h5.9v5.9h-5.9zM1261.03 1327.28h5.9v5.9h-5.9zM1262.15 1324.6h5.9v5.9h-5.9zM1263.27 1327.71h5.9v5.9h-5.9zM1264.39 1325.46h5.9v5.9h-5.9zM1265.51 1327.7h5.9v5.9h-5.9zM1266.63 1330.15h5.9v5.9h-5.9zM1267.75 1325.25h5.9v5.9h-5.9zM1268.87 1327.06h5.9v5.9h-5.9zM1269.99 1326.97h5.9v5.9h-5.9zM1271.11 1323.21h5.9v5.9h-5.9zM1272.23 1326.72h5.9v5.9h-5.9zM1273.35 1325.79h5.9v5.9h-5.9zM1274.47 1326.95h5.9v5.9h-5.9zM1275.59 1325.73h5.9v5.9h-5.9zM1276.71 1323.51h5.9v5.9h-5.9zM1277.83 1325.03h5.9v5.9h-5.9zM1278.95 1328.6h5.9v5.9h-5.9zM1280.07 1325.6h5.9v5.9h-5.9zM1281.19 1324.82h5.9v5.9h-5.9zM1282.31 1323.97h5.9v5.9h-5.9zM1283.43 1323.03h5.9v5.9h-5.9zM1284.55 1318.69h5.9v5.9h-5.9zM1285.67 1320.21h5.9v5.9h-5.9zM1286.79 1319.35h5.9v5.9h-5.9zM1287.91 1318.31h5.9v5.9h-5.9zM1289.03 1320.35h5.9v5.9h-5.9zM1290.15 1319.8h5.9v5.9h-5.9zM1291.27 1317.95h5.9v5.9h-5.9zM1292.39 1318.43h5.9v5.9h-5.9zM1293.51 1317.79h5.9v5.9h-5.9zM1294.63 1318.76h5.9v5.9h-5.9zM1295.75 1321.76h5.9v5.9h-5.9zM1296.87 1323.85h5.9v5.9h-5.9zM1297.99 1322.3h5.9v5.9h-5.9zM1299.11 1322.83h5.9v5.9h-5.9zM1300.23 1318.9h5.9v5.9h-5.9zM1301.35 1319.79h5.9v5.9h-5.9zM1302.47 1320.37h5.9v5.9h-5.9zM1303.59 1317.11h5.9v5.9h-5.9zM1304.71 1318.59h5.9v5.9h-5.9zM1305.83 1321.86h5.9v5.9h-5.9zM1306.95 1323.04h5.9v5.9h-5.9zM1308.07 1320.48h5.9v5.9h-5.9zM1309.19 1320.13h5.9v5.9h-5.9zM1310.31 1317.82h5.9v5.9h-5.9zM1311.43 1320.52h5.9v5.9h-5.9zM1312.55 1278.74h5.9v5.9h-5.9zM1313.67 1314.28h5.9v5.9h-5.9zM1314.79 1324.81h5.9v5.9h-5.9zM1315.91 1321.56h5.9v5.9h-5.9zM1317.03 1321.34h5.9v5.9h-5.9zM1318.15 1325.13h5.9v5.9h-5.9zM1319.27 1326.18h5.9v5.9h-5.9zM1320.39 1325.67h5.9v5.9h-5.9zM1321.51 1325.5h5.9v5.9h-5.9zM1322.63 1327.17h5.9v5.9h-5.9zM1323.75 1326.75h5.9v5.9h-5.9zM1324.87 1329.12h5.9v5.9h-5.9zM1325.99 1326.22h5.9v5.9h-5.9zM1327.11 1330.77h5.9v5.9h-5.9zM1328.23 1326.58h5.9v5.9h-5.9zM1329.35 1329.01h5.9v5.9h-5.9zM1330.47 1323.48h5.9v5.9h-5.9zM1331.59 1322.22h5.9v5.9h-5.9zM1332.71 1322.83h5.9v5.9h-5.9zM1333.83 1321.61h5.9v5.9h-5.9zM1334.95 1322.59h5.9v5.9h-5.9zM1336.07 1324.71h5.9v5.9h-5.9zM1337.19 1323.97h5.9v5.9h-5.9zM1338.31 1320.84h5.9v5.9h-5.9zM1339.43 1321.8h5.9v5.9h-5.9zM1340.55 1321.66h5.9v5.9h-5.9zM1341.67 1319.12h5.9v5.9h-5.9zM1342.79 1320.64h5.9v5.9h-5.9zM1343.91 1319.89h5.9v5.9h-5.9zM1345.03 1319.47h5.9v5.9h-5.9zM1346.15 1322.2h5.9v5.9h-5.9zM1347.27 1321.51h5.9v5.9h-5.9zM1348.39 1318.42h5.9v5.9h-5.9zM1349.51 1320.64h5.9v5.9h-5.9zM1350.63 1321.64h5.9v5.9h-5.9zM1351.75 1320.89h5.9v5.9h-5.9zM1352.87 1320.89h5.9v5.9h-5.9zM1353.99 1323.04h5.9v5.9h-5.9zM1355.11 1320.58h5.9v5.9h-5.9zM1356.23 1324.2h5.9v5.9h-5.9zM1357.35 1321.87h5.9v5.9h-5.9zM1358.47 1325.68h5.9v5.9h-5.9zM1359.59 1327.7h5.9v5.9h-5.9zM1360.71 1326.48h5.9v5.9h-5.9zM1361.83 1323.46h5.9v5.9h-5.9zM1362.95 1323.38h5.9v5.9h-5.9zM1364.07 1319.86h5.9v5.9h-5.9zM1365.19 1322.78h5.9v5.9h-5.9zM1366.31 1322.16h5.9v5.9h-5.9zM1367.43 1320.32h5.9v5.9h-5.9zM1369.67 1304.56h5.9v5.9h-5.9zM1370.79 1320.5h5.9v5.9h-5.9zM1371.91 1319.39h5.9v5.9h-5.9zM1373.03 1320.46h5.9v5.9h-5.9zM1374.15 1323.13h5.9v5.9h-5.9zM1375.27 1320.43h5.9v5.9h-5.9zM1376.39 1322.96h5.9v5.9h-5.9zM1377.51 1323.3h5.9v5.9h-5.9zM1378.63 1322.82h5.9v5.9h-5.9zM1379.75 1324.98h5.9v5.9h-5.9zM1380.87 1321.92h5.9v5.9h-5.9zM1381.99 1327.82h5.9v5.9h-5.9zM1383.11 1324.09h5.9v5.9h-5.9zM1384.23 1325.6h5.9v5.9h-5.9zM1385.35 1325.08h5.9v5.9h-5.9zM1386.47 1327.08h5.9v5.9h-5.9zM1387.59 1325.88h5.9v5.9h-5.9zM1388.71 1325.19h5.9v5.9h-5.9zM1389.83 1325.4h5.9v5.9h-5.9zM1390.95 1329h5.9v5.9h-5.9zM1392.07 1323.19h5.9v5.9h-5.9zM1393.19 1321.82h5.9v5.9h-5.9zM1394.31 1323.72h5.9v5.9h-5.9zM1395.43 1325.27h5.9v5.9h-5.9zM1396.55 1328.42h5.9v5.9h-5.9zM1397.67 1331.47h5.9v5.9h-5.9zM1398.79 1327.52h5.9v5.9h-5.9zM1399.91 1328.37h5.9v5.9h-5.9zM1401.03 1326.88h5.9v5.9h-5.9zM1402.15 1327.59h5.9v5.9h-5.9zM1403.27 1322.78h5.9v5.9h-5.9zM1404.39 1322.67h5.9v5.9h-5.9zM1405.51 1323.37h5.9v5.9h-5.9zM1406.63 1327.49h5.9v5.9h-5.9zM1407.75 1323.37h5.9v5.9h-5.9zM1408.87 1324.26h5.9v5.9h-5.9zM1409.99 1322.62h5.9v5.9h-5.9zM1411.11 1322.93h5.9v5.9h-5.9zM1412.23 1325.76h5.9v5.9h-5.9zM1413.35 1325.06h5.9v5.9h-5.9zM1414.47 1321.53h5.9v5.9h-5.9zM1415.59 1324.82h5.9v5.9h-5.9zM1416.71 1322.92h5.9v5.9h-5.9zM1417.83 1324.6h5.9v5.9h-5.9zM1418.95 1326.22h5.9v5.9h-5.9zM1420.07 1327.59h5.9v5.9h-5.9zM1421.19 1323.82h5.9v5.9h-5.9zM1422.31 1330.55h5.9v5.9h-5.9zM1423.43 1325.01h5.9v5.9h-5.9zM1424.55 1281.88h5.9v5.9h-5.9zM1425.67 1307.19h5.9v5.9h-5.9zM1426.79 1317.11h5.9v5.9h-5.9zM1427.91 1315.96h5.9v5.9h-5.9zM1429.03 1315.13h5.9v5.9h-5.9zM1430.15 1317.42h5.9v5.9h-5.9zM1431.27 1315.58h5.9v5.9h-5.9zM1432.39 1314.22h5.9v5.9h-5.9zM1433.51 1318.72h5.9v5.9h-5.9zM1434.63 1320.35h5.9v5.9h-5.9zM1435.75 1318.82h5.9v5.9h-5.9zM1436.87 1319.44h5.9v5.9h-5.9zM1437.99 1320.37h5.9v5.9h-5.9zM1439.11 1321.13h5.9v5.9h-5.9zM1440.23 1323.16h5.9v5.9h-5.9zM1441.35 1322.15h5.9v5.9h-5.9zM1442.47 1323.15h5.9v5.9h-5.9zM1443.59 1325.57h5.9v5.9h-5.9zM1444.71 1328.2h5.9v5.9h-5.9zM1445.83 1325.34h5.9v5.9h-5.9zM1446.95 1323.3h5.9v5.9h-5.9zM1448.07 1327.26h5.9v5.9h-5.9zM1449.19 1328.67h5.9v5.9h-5.9zM1450.31 1328.26h5.9v5.9h-5.9zM1451.43 1329.75h5.9v5.9h-5.9zM1452.55 1328.66h5.9v5.9h-5.9z" fill="#7a1fe6"/>
</svg></body></html>
